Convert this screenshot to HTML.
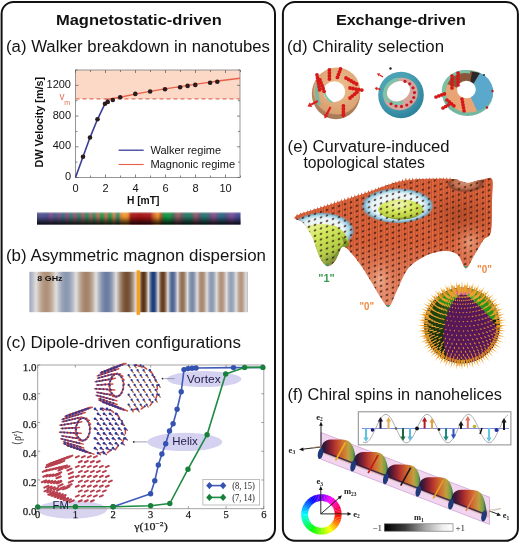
<!DOCTYPE html>
<html><head><meta charset="utf-8">
<style>
html,body{margin:0;padding:0;background:#fff;width:520px;height:543px;overflow:hidden}
svg{display:block}
.t{font-family:"Liberation Sans",Arial,sans-serif;fill:#141414}
.h{font-family:"Liberation Sans",Arial,sans-serif;font-weight:bold;fill:#111}
.s{font-family:"Liberation Serif","Times New Roman",serif;fill:#222}
</style></head>
<body>
<svg width="520" height="543" viewBox="0 0 520 543">
<defs>
<linearGradient id="ga" x1="37" x2="240.5" y1="0" y2="0" gradientUnits="userSpaceOnUse"><stop offset="0.0000" stop-color="#4a4a88"/><stop offset="0.0246" stop-color="#50508c"/><stop offset="0.0491" stop-color="#4a4a8a"/><stop offset="0.0688" stop-color="#7a4a8e"/><stop offset="0.0885" stop-color="#3d5a80"/><stop offset="0.1081" stop-color="#7a4a8a"/><stop offset="0.1278" stop-color="#2f6a7a"/><stop offset="0.1474" stop-color="#8a4a7a"/><stop offset="0.1671" stop-color="#2a7a6a"/><stop offset="0.1867" stop-color="#9a5070"/><stop offset="0.2064" stop-color="#2a7a60"/><stop offset="0.2260" stop-color="#a05a68"/><stop offset="0.2457" stop-color="#1f8a55"/><stop offset="0.2654" stop-color="#b06060"/><stop offset="0.2801" stop-color="#1f8a55"/><stop offset="0.2998" stop-color="#c06a58"/><stop offset="0.3194" stop-color="#129a48"/><stop offset="0.3391" stop-color="#c87050"/><stop offset="0.3587" stop-color="#10964a"/><stop offset="0.3784" stop-color="#d8804a"/><stop offset="0.3980" stop-color="#208a6a"/><stop offset="0.4128" stop-color="#e08838"/><stop offset="0.4324" stop-color="#f09a28"/><stop offset="0.4472" stop-color="#e88a28"/><stop offset="0.4619" stop-color="#a81818"/><stop offset="0.5061" stop-color="#a01010"/><stop offset="0.5553" stop-color="#a81818"/><stop offset="0.5749" stop-color="#d06a28"/><stop offset="0.5946" stop-color="#f09028"/><stop offset="0.6093" stop-color="#a05a28"/><stop offset="0.6241" stop-color="#158a45"/><stop offset="0.6486" stop-color="#0c9a40"/><stop offset="0.6683" stop-color="#3a6a50"/><stop offset="0.6929" stop-color="#9a5a60"/><stop offset="0.7125" stop-color="#5a5a60"/><stop offset="0.7371" stop-color="#1a7a60"/><stop offset="0.7568" stop-color="#2a7060"/><stop offset="0.7813" stop-color="#9a5068"/><stop offset="0.8010" stop-color="#4a5a70"/><stop offset="0.8256" stop-color="#1a7a6a"/><stop offset="0.8452" stop-color="#4a5a78"/><stop offset="0.8698" stop-color="#8a4a88"/><stop offset="0.8894" stop-color="#4a5a80"/><stop offset="0.9091" stop-color="#1f6a80"/><stop offset="0.9287" stop-color="#4a5080"/><stop offset="0.9582" stop-color="#7a4a98"/><stop offset="0.9779" stop-color="#4a4a90"/><stop offset="0.9975" stop-color="#40408a"/></linearGradient>
<linearGradient id="gav" x1="0" x2="0" y1="0" y2="1"><stop offset="0" stop-color="#fff" stop-opacity="0.3"/><stop offset="0.18" stop-color="#fff" stop-opacity="0.05"/><stop offset="0.45" stop-color="#000" stop-opacity="0.12"/><stop offset="0.72" stop-color="#000" stop-opacity="0.5"/><stop offset="1" stop-color="#000" stop-opacity="0.88"/></linearGradient>
<linearGradient id="gb" x1="29.4" x2="248" y1="0" y2="0" gradientUnits="userSpaceOnUse"><stop offset="0.0000" stop-color="#9ea8bb"/><stop offset="0.0046" stop-color="#a5aebf"/><stop offset="0.0091" stop-color="#aeb5c3"/><stop offset="0.0137" stop-color="#b8bdc8"/><stop offset="0.0183" stop-color="#c3c6ce"/><stop offset="0.0229" stop-color="#ced0d4"/><stop offset="0.0274" stop-color="#dbdada"/><stop offset="0.0320" stop-color="#dfdbd8"/><stop offset="0.0366" stop-color="#d7cfc8"/><stop offset="0.0412" stop-color="#d0c3b9"/><stop offset="0.0457" stop-color="#c9b8ab"/><stop offset="0.0503" stop-color="#c2ae9f"/><stop offset="0.0549" stop-color="#bda593"/><stop offset="0.0595" stop-color="#b89e8a"/><stop offset="0.0640" stop-color="#b49882"/><stop offset="0.0686" stop-color="#b1947d"/><stop offset="0.0732" stop-color="#b0927a"/><stop offset="0.0778" stop-color="#af917a"/><stop offset="0.0823" stop-color="#b0937c"/><stop offset="0.0869" stop-color="#b39680"/><stop offset="0.0915" stop-color="#b69c87"/><stop offset="0.0961" stop-color="#baa390"/><stop offset="0.1006" stop-color="#c0ab9b"/><stop offset="0.1052" stop-color="#c6b5a7"/><stop offset="0.1098" stop-color="#cdc0b5"/><stop offset="0.1144" stop-color="#d5ccc5"/><stop offset="0.1189" stop-color="#ddd8d4"/><stop offset="0.1235" stop-color="#dddcdb"/><stop offset="0.1281" stop-color="#d0d1d5"/><stop offset="0.1327" stop-color="#c3c6ce"/><stop offset="0.1372" stop-color="#b7bcc8"/><stop offset="0.1418" stop-color="#acb3c2"/><stop offset="0.1464" stop-color="#a2abbd"/><stop offset="0.1510" stop-color="#9aa4b9"/><stop offset="0.1555" stop-color="#939fb6"/><stop offset="0.1601" stop-color="#8f9bb3"/><stop offset="0.1647" stop-color="#8c99b2"/><stop offset="0.1693" stop-color="#8b98b2"/><stop offset="0.1738" stop-color="#8d99b3"/><stop offset="0.1784" stop-color="#909cb4"/><stop offset="0.1830" stop-color="#96a1b7"/><stop offset="0.1876" stop-color="#9ea7bb"/><stop offset="0.1921" stop-color="#a7afc0"/><stop offset="0.1967" stop-color="#b2b8c6"/><stop offset="0.2013" stop-color="#bec2cc"/><stop offset="0.2059" stop-color="#cbcdd3"/><stop offset="0.2104" stop-color="#d9d9da"/><stop offset="0.2150" stop-color="#dedbd7"/><stop offset="0.2196" stop-color="#d5cdc6"/><stop offset="0.2242" stop-color="#ccbfb5"/><stop offset="0.2287" stop-color="#c4b3a5"/><stop offset="0.2333" stop-color="#bca797"/><stop offset="0.2379" stop-color="#b59c8a"/><stop offset="0.2425" stop-color="#af947e"/><stop offset="0.2470" stop-color="#aa8c76"/><stop offset="0.2516" stop-color="#a6876f"/><stop offset="0.2562" stop-color="#a4846b"/><stop offset="0.2608" stop-color="#a3836a"/><stop offset="0.2653" stop-color="#a4856c"/><stop offset="0.2699" stop-color="#a68871"/><stop offset="0.2745" stop-color="#aa8e79"/><stop offset="0.2790" stop-color="#b09683"/><stop offset="0.2836" stop-color="#b6a08f"/><stop offset="0.2882" stop-color="#beac9e"/><stop offset="0.2928" stop-color="#c7b9ae"/><stop offset="0.2973" stop-color="#d1c7c0"/><stop offset="0.3019" stop-color="#dcd7d2"/><stop offset="0.3065" stop-color="#dbdadb"/><stop offset="0.3111" stop-color="#caccd2"/><stop offset="0.3156" stop-color="#babfca"/><stop offset="0.3202" stop-color="#aab1c1"/><stop offset="0.3248" stop-color="#9ba5ba"/><stop offset="0.3294" stop-color="#8d99b3"/><stop offset="0.3339" stop-color="#8190ad"/><stop offset="0.3385" stop-color="#7888a8"/><stop offset="0.3431" stop-color="#7082a5"/><stop offset="0.3477" stop-color="#6c7ea2"/><stop offset="0.3522" stop-color="#6a7ca1"/><stop offset="0.3568" stop-color="#6b7da2"/><stop offset="0.3614" stop-color="#6f81a4"/><stop offset="0.3660" stop-color="#7687a8"/><stop offset="0.3705" stop-color="#808fad"/><stop offset="0.3751" stop-color="#8d9ab3"/><stop offset="0.3797" stop-color="#9ca6bb"/><stop offset="0.3843" stop-color="#adb4c4"/><stop offset="0.3888" stop-color="#c1c4cd"/><stop offset="0.3934" stop-color="#d5d5d8"/><stop offset="0.3980" stop-color="#dcd8d5"/><stop offset="0.4026" stop-color="#cec4bd"/><stop offset="0.4071" stop-color="#bfb0a5"/><stop offset="0.4117" stop-color="#b19d8e"/><stop offset="0.4163" stop-color="#a38b79"/><stop offset="0.4209" stop-color="#977b65"/><stop offset="0.4254" stop-color="#8c6c54"/><stop offset="0.4300" stop-color="#836046"/><stop offset="0.4346" stop-color="#7c573b"/><stop offset="0.4392" stop-color="#775134"/><stop offset="0.4437" stop-color="#754e31"/><stop offset="0.4483" stop-color="#754f32"/><stop offset="0.4529" stop-color="#785438"/><stop offset="0.4575" stop-color="#7e5c42"/><stop offset="0.4620" stop-color="#876851"/><stop offset="0.4666" stop-color="#947965"/><stop offset="0.4712" stop-color="#a38d7c"/><stop offset="0.4758" stop-color="#b3a295"/><stop offset="0.4803" stop-color="#c5b9b0"/><stop offset="0.4849" stop-color="#d7d1cd"/><stop offset="0.4895" stop-color="#d7d7d9"/><stop offset="0.4941" stop-color="#bcc0cb"/><stop offset="0.4986" stop-color="#d4d4d7"/><stop offset="0.5032" stop-color="#c0b5ab"/><stop offset="0.5078" stop-color="#98816f"/><stop offset="0.5124" stop-color="#78573d"/><stop offset="0.5169" stop-color="#623b1d"/><stop offset="0.5215" stop-color="#5a3010"/><stop offset="0.5261" stop-color="#603719"/><stop offset="0.5306" stop-color="#735035"/><stop offset="0.5352" stop-color="#917764"/><stop offset="0.5398" stop-color="#b8aa9e"/><stop offset="0.5444" stop-color="#e0dfdd"/><stop offset="0.5489" stop-color="#a1aabe"/><stop offset="0.5535" stop-color="#697ba1"/><stop offset="0.5581" stop-color="#3c578b"/><stop offset="0.5627" stop-color="#21407e"/><stop offset="0.5672" stop-color="#1a3a7a"/><stop offset="0.5718" stop-color="#284581"/><stop offset="0.5764" stop-color="#486091"/><stop offset="0.5810" stop-color="#7888a9"/><stop offset="0.5855" stop-color="#b4bac7"/><stop offset="0.5901" stop-color="#d6d0cc"/><stop offset="0.5947" stop-color="#ac9a8c"/><stop offset="0.5993" stop-color="#886b55"/><stop offset="0.6038" stop-color="#704c30"/><stop offset="0.6084" stop-color="#653d1e"/><stop offset="0.6130" stop-color="#673f20"/><stop offset="0.6176" stop-color="#755135"/><stop offset="0.6221" stop-color="#8e715b"/><stop offset="0.6267" stop-color="#ad9a8c"/><stop offset="0.6313" stop-color="#d1c9c3"/><stop offset="0.6359" stop-color="#c7c9d0"/><stop offset="0.6404" stop-color="#97a2b8"/><stop offset="0.6450" stop-color="#7182a5"/><stop offset="0.6496" stop-color="#586e99"/><stop offset="0.6542" stop-color="#4e6594"/><stop offset="0.6587" stop-color="#536a96"/><stop offset="0.6633" stop-color="#677aa0"/><stop offset="0.6679" stop-color="#8694b0"/><stop offset="0.6725" stop-color="#adb4c3"/><stop offset="0.6770" stop-color="#d8d8d9"/><stop offset="0.6816" stop-color="#ccc2ba"/><stop offset="0.6862" stop-color="#b4a090"/><stop offset="0.6908" stop-color="#a18570"/><stop offset="0.6953" stop-color="#95755b"/><stop offset="0.6999" stop-color="#926f55"/><stop offset="0.7045" stop-color="#96765c"/><stop offset="0.7091" stop-color="#a38671"/><stop offset="0.7136" stop-color="#b5a090"/><stop offset="0.7182" stop-color="#cbbfb6"/><stop offset="0.7228" stop-color="#e1dfde"/><stop offset="0.7274" stop-color="#bec2cc"/><stop offset="0.7319" stop-color="#9fa9bc"/><stop offset="0.7365" stop-color="#8996b1"/><stop offset="0.7411" stop-color="#7b8baa"/><stop offset="0.7457" stop-color="#7989a9"/><stop offset="0.7502" stop-color="#8190ad"/><stop offset="0.7548" stop-color="#939fb6"/><stop offset="0.7594" stop-color="#adb4c3"/><stop offset="0.7640" stop-color="#cbcdd2"/><stop offset="0.7685" stop-color="#dcd8d4"/><stop offset="0.7731" stop-color="#c9bbb0"/><stop offset="0.7777" stop-color="#b9a392"/><stop offset="0.7823" stop-color="#ad917c"/><stop offset="0.7868" stop-color="#a78870"/><stop offset="0.7914" stop-color="#a78870"/><stop offset="0.7960" stop-color="#ad917b"/><stop offset="0.8005" stop-color="#b8a18f"/><stop offset="0.8051" stop-color="#c8b8ac"/><stop offset="0.8097" stop-color="#d9d3ce"/><stop offset="0.8143" stop-color="#d3d4d6"/><stop offset="0.8188" stop-color="#b8bec9"/><stop offset="0.8234" stop-color="#a2abbe"/><stop offset="0.8280" stop-color="#939fb6"/><stop offset="0.8326" stop-color="#8c99b2"/><stop offset="0.8371" stop-color="#8e9bb3"/><stop offset="0.8417" stop-color="#99a3b9"/><stop offset="0.8463" stop-color="#abb2c2"/><stop offset="0.8509" stop-color="#c2c5ce"/><stop offset="0.8554" stop-color="#dcdbdb"/><stop offset="0.8600" stop-color="#d5ccc5"/><stop offset="0.8646" stop-color="#c6b5a7"/><stop offset="0.8692" stop-color="#baa28f"/><stop offset="0.8737" stop-color="#b39680"/><stop offset="0.8783" stop-color="#b0927a"/><stop offset="0.8829" stop-color="#b2957f"/><stop offset="0.8875" stop-color="#b9a08d"/><stop offset="0.8920" stop-color="#c5b2a3"/><stop offset="0.8966" stop-color="#d3c8c0"/><stop offset="0.9012" stop-color="#e1dfde"/><stop offset="0.9058" stop-color="#c9cbd1"/><stop offset="0.9103" stop-color="#b3b9c6"/><stop offset="0.9149" stop-color="#a2abbd"/><stop offset="0.9195" stop-color="#98a2b8"/><stop offset="0.9241" stop-color="#95a0b7"/><stop offset="0.9286" stop-color="#9ba5b9"/><stop offset="0.9332" stop-color="#a7afc0"/><stop offset="0.9378" stop-color="#babfc9"/><stop offset="0.9424" stop-color="#d0d1d5"/><stop offset="0.9469" stop-color="#ded9d6"/><stop offset="0.9515" stop-color="#cfc2b8"/><stop offset="0.9561" stop-color="#c3af9e"/><stop offset="0.9607" stop-color="#baa08b"/><stop offset="0.9652" stop-color="#b59881"/><stop offset="0.9698" stop-color="#b59780"/><stop offset="0.9744" stop-color="#b99e89"/><stop offset="0.9790" stop-color="#c1ac9b"/><stop offset="0.9835" stop-color="#cdbfb3"/><stop offset="0.9881" stop-color="#dbd5d0"/><stop offset="0.9927" stop-color="#d6d6d8"/><stop offset="0.9973" stop-color="#bfc3cc"/></linearGradient>
<radialGradient id="r1top" cx="0.55" cy="0.4" r="0.7"><stop offset="0" stop-color="#f0c090"/><stop offset="1" stop-color="#d49a6a"/></radialGradient>
<linearGradient id="r1side" x1="0" x2="0" y1="0" y2="1"><stop offset="0" stop-color="#c89068"/><stop offset="1" stop-color="#a87a58"/></linearGradient>
<radialGradient id="r2o" cx="0.4" cy="0.35" r="0.7"><stop offset="0.5" stop-color="#4aa2b4"/><stop offset="1" stop-color="#2a7e98"/></radialGradient>
<clipPath id="sclip"><path d="M295.1 216.4 L300.79 213.85 L309.84 210.91 L320.26 207.81 L330 204.8 L338.63 201.97 L347.18 199.19 L355.9 196.36 L365 193.4 L374.51 189.99 L384.31 186.28 L394.46 182.87 L405 180.4 L416.95 179.15 L429.94 178.76 L441.96 178.84 L451 179 L455.88 179.26 L457.88 179.79 L458.69 180.42 L460 181 L462.07 181.59 L464.06 182.25 L466.02 182.78 L468 183 L470.02 182.77 L472.06 182.22 L474.07 181.56 L476 181 L477.77 180.56 L479.42 180.14 L481.11 179.78 L483 179.5 L485.39 178.85 L488.11 177.96 L490.6 177.76 L492.3 179.2 L492.92 182.65 L492.79 187.58 L492.35 193.52 L492 200 L491.95 207.78 L491.94 216.81 L491.72 225.44 L491 232 L489.66 235.45 L487.85 236.89 L485.77 237.83 L483.6 239.8 L481.28 243.35 L478.74 247.61 L476.18 252.01 L473.8 256 L471.67 259.99 L469.68 264.11 L467.74 267.29 L465.8 268.5 L463.92 266.73 L462.12 262.78 L460.21 258.32 L458 255 L455.43 253.19 L452.61 252.03 L449.6 251.36 L446.5 251 L443.17 251.03 L439.62 251.5 L436.14 252.22 L433 253 L430.48 253.68 L428.38 254.41 L426.2 255.43 L423.5 257 L419.95 259.08 L415.88 261.56 L411.73 264.64 L408 268.5 L404.75 273.62 L401.76 279.76 L399.01 286.02 L396.5 291.5 L394.31 296.43 L392.42 301.14 L390.64 304.85 L388.8 306.8 L386.89 306.44 L384.98 304.29 L383.04 301.2 L381 298 L378.86 294.71 L376.64 290.95 L374.35 286.97 L372 283 L369.57 279 L367.06 274.88 L364.52 270.81 L362 267 L359.48 263.41 L356.94 259.98 L354.43 256.81 L352 254 L349.59 251.32 L347.19 248.79 L344.95 246.95 L343 246.3 L341.43 247.37 L340.14 249.76 L339.04 252.59 L338 255 L337.15 256.84 L336.49 258.56 L335.77 260.14 L334.7 261.6 L333.16 263.19 L331.31 264.83 L329.33 266 L327.4 266.2 L325.56 265.31 L323.71 263.61 L321.85 261.12 L320 257.9 L318.19 253.54 L316.41 248.15 L314.58 242.56 L312.6 237.6 L310.41 233.34 L308.06 229.39 L305.68 225.87 L303.4 222.9 L300.25 220.82 L296.49 219.46 L294.12 218.19Z"/></clipPath>
<pattern id="sstripe" width="2.7" height="6" patternUnits="userSpaceOnUse"><rect width="2.7" height="6" fill="#e2693e"/><rect x="1.6" width="1.1" height="6" fill="#c05030"/></pattern>
<pattern id="sdots" width="6" height="5.5" patternUnits="userSpaceOnUse" patternTransform="skewY(-18)"><circle cx="3" cy="2.75" r="1.05" fill="#3a1810"/></pattern>
<radialGradient id="halo1" cx="0.5" cy="0.5" r="0.5"><stop offset="0" stop-color="#f4f8f0"/><stop offset="0.68" stop-color="#eaf6fa"/><stop offset="0.84" stop-color="#a4d4e6"/><stop offset="0.93" stop-color="#6aaccc" stop-opacity="0.8"/><stop offset="1" stop-color="#e2693e" stop-opacity="0"/></radialGradient>
<radialGradient id="yg1" cx="0.45" cy="0.25" r="0.75"><stop offset="0" stop-color="#f0f6c0"/><stop offset="0.45" stop-color="#d6ea60"/><stop offset="0.85" stop-color="#b8d040"/><stop offset="1" stop-color="#6a8420"/></radialGradient>
<radialGradient id="dipR" cx="0.5" cy="0.5" r="0.5"><stop offset="0" stop-color="#f0b898"/><stop offset="1" stop-color="#e2693e" stop-opacity="0"/></radialGradient>
<radialGradient id="crat" cx="0.45" cy="0.45" r="0.55"><stop offset="0" stop-color="#d89474"/><stop offset="0.55" stop-color="#c07050"/><stop offset="0.8" stop-color="#8a4630"/><stop offset="1" stop-color="#c05a38" stop-opacity="0"/></radialGradient>
<radialGradient id="shadeR" cx="0.5" cy="0.5" r="0.5"><stop offset="0" stop-color="#7a2a10" stop-opacity="0.35"/><stop offset="1" stop-color="#7a2a10" stop-opacity="0"/></radialGradient>
<linearGradient id="yg2" x1="0" y1="0" x2="0.6" y2="1"><stop offset="0" stop-color="#eef6b0"/><stop offset="0.35" stop-color="#d4ea60"/><stop offset="0.75" stop-color="#b0cc40"/><stop offset="1" stop-color="#6a8420"/></linearGradient>
<linearGradient id="sbot" x1="0" y1="0" x2="0" y2="1"><stop offset="0" stop-color="#fff" stop-opacity="0"/><stop offset="0.5" stop-color="#fff" stop-opacity="0"/><stop offset="0.8" stop-color="#ffe0d0" stop-opacity="0.22"/><stop offset="1" stop-color="#ffe0d0" stop-opacity="0.35"/></linearGradient>
<clipPath id="ballclip"><circle cx="462" cy="325.5" r="37.5"/></clipPath>
<radialGradient id="ballg" cx="0.35" cy="0.3" r="0.75"><stop offset="0" stop-color="#2a5a14"/><stop offset="0.5" stop-color="#16300c"/><stop offset="1" stop-color="#0c1406"/></radialGradient>
<radialGradient id="fring" cx="462" cy="325.5" r="45" gradientUnits="userSpaceOnUse"><stop offset="0.75" stop-color="#c87818"/><stop offset="0.88" stop-color="#eca030"/><stop offset="1" stop-color="#f6c060"/></radialGradient>
<linearGradient id="ha0" x1="320.5" y1="0" x2="356.5" y2="0" gradientUnits="userSpaceOnUse"><stop offset="0" stop-color="#1c1c48"/><stop offset="0.12" stop-color="#3a1838"/><stop offset="0.28" stop-color="#8a2030"/><stop offset="0.45" stop-color="#c0402c"/><stop offset="0.62" stop-color="#d07030"/><stop offset="0.78" stop-color="#c0a040"/><stop offset="0.9" stop-color="#70a048"/><stop offset="1" stop-color="#1a3a50"/></linearGradient>
<linearGradient id="ha1" x1="353.1" y1="0" x2="389.1" y2="0" gradientUnits="userSpaceOnUse"><stop offset="0" stop-color="#1c1c48"/><stop offset="0.12" stop-color="#3a1838"/><stop offset="0.28" stop-color="#8a2030"/><stop offset="0.45" stop-color="#c0402c"/><stop offset="0.62" stop-color="#d07030"/><stop offset="0.78" stop-color="#c0a040"/><stop offset="0.9" stop-color="#70a048"/><stop offset="1" stop-color="#1a3a50"/></linearGradient>
<linearGradient id="ha2" x1="385.7" y1="0" x2="421.7" y2="0" gradientUnits="userSpaceOnUse"><stop offset="0" stop-color="#1c1c48"/><stop offset="0.12" stop-color="#3a1838"/><stop offset="0.28" stop-color="#8a2030"/><stop offset="0.45" stop-color="#c0402c"/><stop offset="0.62" stop-color="#d07030"/><stop offset="0.78" stop-color="#c0a040"/><stop offset="0.9" stop-color="#70a048"/><stop offset="1" stop-color="#1a3a50"/></linearGradient>
<linearGradient id="ha3" x1="418.3" y1="0" x2="454.3" y2="0" gradientUnits="userSpaceOnUse"><stop offset="0" stop-color="#1c1c48"/><stop offset="0.12" stop-color="#3a1838"/><stop offset="0.28" stop-color="#8a2030"/><stop offset="0.45" stop-color="#c0402c"/><stop offset="0.62" stop-color="#d07030"/><stop offset="0.78" stop-color="#c0a040"/><stop offset="0.9" stop-color="#70a048"/><stop offset="1" stop-color="#1a3a50"/></linearGradient>
<linearGradient id="ha4" x1="450.9" y1="0" x2="486.9" y2="0" gradientUnits="userSpaceOnUse"><stop offset="0" stop-color="#1c1c48"/><stop offset="0.12" stop-color="#3a1838"/><stop offset="0.28" stop-color="#8a2030"/><stop offset="0.45" stop-color="#c0402c"/><stop offset="0.62" stop-color="#d07030"/><stop offset="0.78" stop-color="#c0a040"/><stop offset="0.9" stop-color="#70a048"/><stop offset="1" stop-color="#1a3a50"/></linearGradient>
<linearGradient id="m1g" x1="0" x2="1" y1="0" y2="0"><stop offset="0" stop-color="#000"/><stop offset="0.3" stop-color="#3a3a3a"/><stop offset="0.6" stop-color="#a8a8a8"/><stop offset="0.85" stop-color="#eeeeee"/><stop offset="1" stop-color="#fff"/></linearGradient>
</defs>
<rect x="0" y="0" width="520" height="543" fill="#fff"/>
<rect x="75.5" y="70" width="164.5" height="28.95" fill="#fcd8c6"/>
<rect x="75.5" y="70" width="164.5" height="107.5" fill="none" stroke="#8a8a8a" stroke-width="0.9"/>
<path d="M75.5 177.5v-3 M75.5 70v3 M90.5 177.5v-2 M90.5 70v2 M105.5 177.5v-3 M105.5 70v3 M120.5 177.5v-2 M120.5 70v2 M135.5 177.5v-3 M135.5 70v3 M150.5 177.5v-2 M150.5 70v2 M165.5 177.5v-3 M165.5 70v3 M180.5 177.5v-2 M180.5 70v2 M195.5 177.5v-3 M195.5 70v3 M210.5 177.5v-2 M210.5 70v2 M225.5 177.5v-3 M225.5 70v3 M240.5 177.5v-2 M240.5 70v2 M75.5 177.5h3 M240 177.5h-3 M75.5 162.14h2 M240 162.14h-2 M75.5 146.79h3 M240 146.79h-3 M75.5 131.43h2 M240 131.43h-2 M75.5 116.07h3 M240 116.07h-3 M75.5 100.71h2 M240 100.71h-2 M75.5 85.36h3 M240 85.36h-3 M75.5 70h2 M240 70h-2" stroke="#666" stroke-width="0.8" fill="none"/>
<line x1="75.5" y1="98.95" x2="240" y2="98.95" stroke="#e4715a" stroke-width="1.2" stroke-dasharray="4,3"/>
<polyline points="105.4,99.8 120.2,97.2 135,94.1 150,91.4 165,88.9 180,86.6 200,83.6 220,80.8 240,78.2" fill="none" stroke="#e8604a" stroke-width="1.4"/>
<polyline points="75.5,177.5 83,156.8 90,137.6 97.5,119.3 105,103.6 108.2,99.6" fill="none" stroke="#3a3f96" stroke-width="1.6" stroke-linejoin="round"/>
<circle cx="83" cy="156.75" r="2.3" fill="#2a1c1c"/>
<circle cx="90" cy="137.5" r="2.3" fill="#2a1c1c"/>
<circle cx="97.5" cy="119.25" r="2.3" fill="#2a1c1c"/>
<circle cx="105" cy="103.75" r="2.3" fill="#2a1c1c"/>
<circle cx="107.8" cy="102" r="2.3" fill="#2a1c1c"/>
<circle cx="112.8" cy="100" r="2.3" fill="#2a1c1c"/>
<circle cx="120.2" cy="97.3" r="2.3" fill="#2a1c1c"/>
<circle cx="135.3" cy="93.9" r="2.3" fill="#2a1c1c"/>
<circle cx="150.1" cy="91.5" r="2.3" fill="#2a1c1c"/>
<circle cx="165" cy="89.2" r="2.3" fill="#2a1c1c"/>
<circle cx="180.1" cy="87.3" r="2.3" fill="#2a1c1c"/>
<circle cx="187.6" cy="85.9" r="2.3" fill="#2a1c1c"/>
<circle cx="195.3" cy="84.9" r="2.3" fill="#2a1c1c"/>
<circle cx="210.1" cy="82.7" r="2.3" fill="#2a1c1c"/>
<circle cx="217.3" cy="81.8" r="2.3" fill="#2a1c1c"/>
<line x1="118.6" y1="150.2" x2="143.7" y2="150.2" stroke="#3a3f96" stroke-width="1.3"/>
<line x1="118.6" y1="164.5" x2="143.7" y2="164.5" stroke="#e8604a" stroke-width="1.1"/>
<text class="t" x="150.4" y="153.8" font-size="10" textLength="70.8" lengthAdjust="spacingAndGlyphs">Walker regime</text>
<text class="t" x="150.4" y="167.8" font-size="10" textLength="84.8" lengthAdjust="spacingAndGlyphs">Magnonic regime</text>
<text class="t" x="71" y="180.1" font-size="11" text-anchor="end">0</text>
<text class="t" x="71" y="149.39" font-size="11" text-anchor="end">400</text>
<text class="t" x="71" y="118.67" font-size="11" text-anchor="end">800</text>
<text class="t" x="71" y="87.96" font-size="11" text-anchor="end">1200</text>
<text class="t" x="75.5" y="191.6" font-size="11" text-anchor="middle">0</text>
<text class="t" x="105.5" y="191.6" font-size="11" text-anchor="middle">2</text>
<text class="t" x="135.5" y="191.6" font-size="11" text-anchor="middle">4</text>
<text class="t" x="165.5" y="191.6" font-size="11" text-anchor="middle">6</text>
<text class="t" x="195.5" y="191.6" font-size="11" text-anchor="middle">8</text>
<text class="t" x="225.5" y="191.6" font-size="11" text-anchor="middle">10</text>
<text class="h" x="126.9" y="203.8" font-size="10" textLength="32.5" lengthAdjust="spacingAndGlyphs">H [mT]</text>
<text class="h" transform="translate(42.6 167.4) rotate(-90)" x="0" y="0" font-size="11.6" textLength="90.5" lengthAdjust="spacingAndGlyphs">DW Velocity [m/s]</text>
<text x="59.6" y="100.3" font-size="10" font-family="Liberation Sans,Arial,sans-serif" fill="#e4715a">v</text>
<text x="64.2" y="105.4" font-size="7" font-family="Liberation Sans,Arial,sans-serif" fill="#e4715a">m</text>
<rect x="37" y="212.5" width="203.5" height="12" fill="url(#ga)"/>
<rect x="37" y="212.5" width="203.5" height="12" fill="url(#gav)"/>
<rect x="29.4" y="271.8" width="218.6" height="40.4" fill="url(#gb)"/>
<rect x="136.6" y="270.3" width="3.5" height="44.6" fill="#f5a020"/>
<text class="h" x="37.2" y="281" font-size="8" textLength="25.4" lengthAdjust="spacingAndGlyphs">8 GHz</text>
<ellipse cx="204.2" cy="379.1" rx="37.2" ry="8" fill="#d4d2f0"/>
<ellipse cx="184.8" cy="441.9" rx="37.5" ry="9.2" fill="#d4d2f0"/>
<ellipse cx="72" cy="509.6" rx="35" ry="9" fill="#d8d4f0"/>
<rect x="37.7" y="365" width="226.1" height="143.7" fill="none" stroke="#9a9a9a" stroke-width="0.9"/>
<path d="M37.7 508.7v-2.5 M37.7 365v2.5 M75.38 508.7v-2.5 M75.38 365v2.5 M113.06 508.7v-2.5 M113.06 365v2.5 M150.74 508.7v-2.5 M150.74 365v2.5 M188.42 508.7v-2.5 M188.42 365v2.5 M226.1 508.7v-2.5 M226.1 365v2.5 M263.78 508.7v-2.5 M263.78 365v2.5 M37.7 508.7h2.5 M263.8 508.7h-2.5 M37.7 479.96h2.5 M263.8 479.96h-2.5 M37.7 451.22h2.5 M263.8 451.22h-2.5 M37.7 422.48h2.5 M263.8 422.48h-2.5 M37.7 393.74h2.5 M263.8 393.74h-2.5 M37.7 365h2.5 M263.8 365h-2.5" stroke="#777" stroke-width="0.7" fill="none"/>
<text class="s" x="36.6" y="514.7" font-size="11" text-anchor="end" fill="#1a1a1a" stroke="#1a1a1a" stroke-width="0.25">0.0</text>
<text class="s" x="36.6" y="485.96" font-size="11" text-anchor="end" fill="#1a1a1a" stroke="#1a1a1a" stroke-width="0.25">0.2</text>
<text class="s" x="36.6" y="457.22" font-size="11" text-anchor="end" fill="#1a1a1a" stroke="#1a1a1a" stroke-width="0.25">0.4</text>
<text class="s" x="36.6" y="428.48" font-size="11" text-anchor="end" fill="#1a1a1a" stroke="#1a1a1a" stroke-width="0.25">0.6</text>
<text class="s" x="36.6" y="399.74" font-size="11" text-anchor="end" fill="#1a1a1a" stroke="#1a1a1a" stroke-width="0.25">0.8</text>
<text class="s" x="36.6" y="371" font-size="11" text-anchor="end" fill="#1a1a1a" stroke="#1a1a1a" stroke-width="0.25">1.0</text>
<text class="s" x="37.7" y="517.6" font-size="10.5" text-anchor="middle" fill="#1a1a1a" stroke="#1a1a1a" stroke-width="0.25">0</text>
<text class="s" x="75.38" y="517.6" font-size="10.5" text-anchor="middle" fill="#1a1a1a" stroke="#1a1a1a" stroke-width="0.25">1</text>
<text class="s" x="113.06" y="517.6" font-size="10.5" text-anchor="middle" fill="#1a1a1a" stroke="#1a1a1a" stroke-width="0.25">2</text>
<text class="s" x="150.74" y="517.6" font-size="10.5" text-anchor="middle" fill="#1a1a1a" stroke="#1a1a1a" stroke-width="0.25">3</text>
<text class="s" x="188.42" y="517.6" font-size="10.5" text-anchor="middle" fill="#1a1a1a" stroke="#1a1a1a" stroke-width="0.25">4</text>
<text class="s" x="226.1" y="517.6" font-size="10.5" text-anchor="middle" fill="#1a1a1a" stroke="#1a1a1a" stroke-width="0.25">5</text>
<text class="s" x="263.78" y="517.6" font-size="10.5" text-anchor="middle" fill="#1a1a1a" stroke="#1a1a1a" stroke-width="0.25">6</text>
<text class="s" x="134.2" y="529.6" font-size="11" stroke="#222" stroke-width="0.25" textLength="33.5" lengthAdjust="spacingAndGlyphs">γ(10<tspan font-size="7" dy="-4">−2</tspan><tspan dy="4">)</tspan></text>
<text class="s" transform="translate(20.6 444.6) rotate(-90)" font-size="12" textLength="14.2" lengthAdjust="spacingAndGlyphs">⟨ρ<tspan font-size="6.5" dy="-3.5">z</tspan><tspan dy="3.5">⟩</tspan></text>
<line x1="164.3" y1="378.6" x2="174.7" y2="378.6" stroke="#8a88a8" stroke-width="0.8"/><circle cx="162.6" cy="378.6" r="0.9" fill="#222"/>
<line x1="134.8" y1="441.9" x2="147.3" y2="441.9" stroke="#8a88a8" stroke-width="0.8"/><circle cx="133.8" cy="441.9" r="0.9" fill="#222"/>
<polyline points="113.1,506.7 150.6,493.8 154.8,480.8 158.3,465 161.9,454 165.7,443.7 169.5,431 173.1,423.8 177.1,409.3 181.2,391.8 184,369.6 188,368.6 192,368.2 196,368 233.5,367.6 262.9,367.4" fill="none" stroke="#3f5bb8" stroke-width="1.6" stroke-linejoin="round"/>
<circle cx="113.1" cy="506.7" r="2.7" fill="#3552b0"/>
<circle cx="150.6" cy="493.8" r="2.7" fill="#3552b0"/>
<circle cx="154.8" cy="480.8" r="2.7" fill="#3552b0"/>
<circle cx="158.3" cy="465" r="2.7" fill="#3552b0"/>
<circle cx="161.9" cy="454" r="2.7" fill="#3552b0"/>
<circle cx="165.7" cy="443.7" r="2.7" fill="#3552b0"/>
<circle cx="169.5" cy="431" r="2.7" fill="#3552b0"/>
<circle cx="173.1" cy="423.8" r="2.7" fill="#3552b0"/>
<circle cx="177.1" cy="409.3" r="2.7" fill="#3552b0"/>
<circle cx="181.2" cy="391.8" r="2.7" fill="#3552b0"/>
<circle cx="184" cy="369.6" r="2.7" fill="#3552b0"/>
<circle cx="188" cy="368.6" r="2.7" fill="#3552b0"/>
<circle cx="192" cy="368.2" r="2.7" fill="#3552b0"/>
<circle cx="196" cy="368" r="2.7" fill="#3552b0"/>
<circle cx="233.5" cy="367.6" r="2.7" fill="#3552b0"/>
<polyline points="37.7,507 75.4,506.7 113.1,506.7 150.6,505.8 169.8,503.5 188,469.2 207.1,434.7 225.7,374 244.6,367.4 262.9,367.4" fill="none" stroke="#1e8a42" stroke-width="1.6" stroke-linejoin="round"/>
<circle cx="37.7" cy="507" r="2.7" fill="#17803a"/>
<circle cx="75.4" cy="506.7" r="2.7" fill="#17803a"/>
<circle cx="113.1" cy="506.7" r="2.7" fill="#17803a"/>
<circle cx="150.6" cy="505.8" r="2.7" fill="#17803a"/>
<circle cx="169.8" cy="503.5" r="2.7" fill="#17803a"/>
<circle cx="188" cy="469.2" r="2.7" fill="#17803a"/>
<circle cx="207.1" cy="434.7" r="2.7" fill="#17803a"/>
<circle cx="225.7" cy="374" r="2.7" fill="#17803a"/>
<circle cx="244.6" cy="367.4" r="2.7" fill="#17803a"/>
<circle cx="262.9" cy="367.4" r="2.7" fill="#17803a"/>
<rect x="202.9" y="479.4" width="56.7" height="25.6" fill="#fff" stroke="#b0b0b0" stroke-width="0.8"/>
<line x1="209.4" y1="485.6" x2="223.1" y2="485.6" stroke="#3f5bb8" stroke-width="1.6"/><path d="M209.4 482l3.2 3.6l-3.2 3.6l-3.2 -3.6z" fill="#3552b0"/><path d="M223.1 482l3.2 3.6l-3.2 3.6l-3.2 -3.6z" fill="#3552b0"/>
<line x1="209.4" y1="497.4" x2="223.1" y2="497.4" stroke="#1e8a42" stroke-width="1.6"/><path d="M209.4 493.8l3.2 3.6l-3.2 3.6l-3.2 -3.6z" fill="#17803a"/><path d="M223.1 493.8l3.2 3.6l-3.2 3.6l-3.2 -3.6z" fill="#17803a"/>
<text class="s" x="232.2" y="489.3" font-size="9.5" textLength="22.7" lengthAdjust="spacingAndGlyphs">(8, 15)</text>
<text class="s" x="232.2" y="501.1" font-size="9.5" textLength="22.7" lengthAdjust="spacingAndGlyphs">(7, 14)</text>
<text x="186.8" y="382.8" font-size="11.6" font-family="Liberation Sans,Arial,sans-serif" fill="#1d1b48" textLength="33.8" lengthAdjust="spacingAndGlyphs">Vortex</text>
<text x="172.3" y="445.2" font-size="11.6" font-family="Liberation Sans,Arial,sans-serif" fill="#1d1b48" textLength="25.4" lengthAdjust="spacingAndGlyphs">Helix</text>
<g stroke="#a8603a" stroke-width="1.25" stroke-linecap="round"><line x1="128.6" y1="365.33" x2="130.23" y2="367.85"/><line x1="134.6" y1="365.33" x2="136.23" y2="367.85"/><line x1="140.6" y1="365.33" x2="142.23" y2="367.85"/><line x1="131.6" y1="370.23" x2="133.23" y2="372.75"/><line x1="137.6" y1="370.23" x2="139.23" y2="372.75"/><line x1="143.6" y1="370.23" x2="145.23" y2="372.75"/><line x1="149.6" y1="370.23" x2="151.23" y2="372.75"/><line x1="128.6" y1="375.13" x2="130.23" y2="377.65"/><line x1="134.6" y1="375.13" x2="136.23" y2="377.65"/><line x1="140.6" y1="375.13" x2="142.23" y2="377.65"/><line x1="146.6" y1="375.13" x2="148.23" y2="377.65"/><line x1="152.6" y1="375.13" x2="154.23" y2="377.65"/><line x1="131.6" y1="380.03" x2="133.23" y2="382.55"/><line x1="137.6" y1="380.03" x2="139.23" y2="382.55"/><line x1="143.6" y1="380.03" x2="145.23" y2="382.55"/><line x1="149.6" y1="380.03" x2="151.23" y2="382.55"/><line x1="155.6" y1="380.03" x2="157.23" y2="382.55"/><line x1="128.6" y1="384.93" x2="130.23" y2="387.45"/><line x1="134.6" y1="384.93" x2="136.23" y2="387.45"/><line x1="140.6" y1="384.93" x2="142.23" y2="387.45"/><line x1="146.6" y1="384.93" x2="148.23" y2="387.45"/><line x1="152.6" y1="384.93" x2="154.23" y2="387.45"/><line x1="158.6" y1="384.93" x2="160.23" y2="387.45"/><line x1="131.6" y1="389.83" x2="133.23" y2="392.35"/><line x1="137.6" y1="389.83" x2="139.23" y2="392.35"/><line x1="143.6" y1="389.83" x2="145.23" y2="392.35"/><line x1="149.6" y1="389.83" x2="151.23" y2="392.35"/><line x1="155.6" y1="389.83" x2="157.23" y2="392.35"/><line x1="128.6" y1="394.73" x2="130.23" y2="397.25"/><line x1="134.6" y1="394.73" x2="136.23" y2="397.25"/><line x1="140.6" y1="394.73" x2="142.23" y2="397.25"/><line x1="146.6" y1="394.73" x2="148.23" y2="397.25"/><line x1="152.6" y1="394.73" x2="154.23" y2="397.25"/><line x1="158.6" y1="394.73" x2="160.23" y2="397.25"/><line x1="131.6" y1="399.63" x2="133.23" y2="402.15"/><line x1="137.6" y1="399.63" x2="139.23" y2="402.15"/><line x1="143.6" y1="399.63" x2="145.23" y2="402.15"/><line x1="149.6" y1="399.63" x2="151.23" y2="402.15"/><line x1="155.6" y1="399.63" x2="157.23" y2="402.15"/><line x1="128.6" y1="404.53" x2="130.23" y2="407.05"/><line x1="134.6" y1="404.53" x2="136.23" y2="407.05"/><line x1="140.6" y1="404.53" x2="142.23" y2="407.05"/><line x1="146.6" y1="404.53" x2="148.23" y2="407.05"/><line x1="131.6" y1="409.43" x2="133.23" y2="411.95"/><line x1="137.6" y1="409.43" x2="139.23" y2="411.95"/></g><g stroke="#c84a48" stroke-width="1.5" stroke-linecap="round"><line x1="102.47" y1="401.76" x2="107.63" y2="403.65"/><line x1="105.28" y1="402.79" x2="110.45" y2="404.68"/><line x1="108.1" y1="403.82" x2="113.27" y2="405.71"/><line x1="110.92" y1="404.85" x2="116.08" y2="406.75"/><line x1="113.74" y1="405.89" x2="118.9" y2="407.78"/><line x1="116.56" y1="406.92" x2="121.72" y2="408.81"/><line x1="119.37" y1="407.95" x2="124.54" y2="409.84"/><line x1="122.19" y1="408.98" x2="127.36" y2="410.88"/><line x1="102.17" y1="401.88" x2="107.31" y2="403.83"/><line x1="105.25" y1="403.05" x2="110.39" y2="405"/><line x1="108.32" y1="404.22" x2="113.46" y2="406.17"/><line x1="111.4" y1="405.39" x2="116.54" y2="407.34"/><line x1="114.47" y1="406.56" x2="119.61" y2="408.51"/><line x1="117.55" y1="407.73" x2="122.69" y2="409.68"/><line x1="98.9" y1="399.99" x2="104.06" y2="401.9"/><line x1="101.77" y1="401.06" x2="106.93" y2="402.97"/><line x1="104.65" y1="402.12" x2="109.81" y2="404.04"/><line x1="107.53" y1="403.19" x2="112.68" y2="405.1"/><line x1="110.4" y1="404.26" x2="115.56" y2="406.17"/><line x1="113.28" y1="405.32" x2="118.43" y2="407.24"/><line x1="116.15" y1="406.39" x2="121.31" y2="408.3"/><line x1="98.98" y1="398.48" x2="104.2" y2="400.22"/><line x1="102.22" y1="399.56" x2="107.44" y2="401.3"/><line x1="105.46" y1="400.64" x2="110.67" y2="402.38"/><line x1="108.7" y1="401.72" x2="113.91" y2="403.46"/><line x1="111.94" y1="402.8" x2="117.15" y2="404.55"/><line x1="96.11" y1="395.25" x2="101.42" y2="396.67"/><line x1="99.17" y1="396.07" x2="104.49" y2="397.49"/><line x1="102.24" y1="396.89" x2="107.56" y2="398.31"/><line x1="105.31" y1="397.71" x2="110.63" y2="399.14"/><line x1="108.38" y1="398.54" x2="113.7" y2="399.96"/><line x1="111.45" y1="399.36" x2="116.77" y2="400.78"/><line x1="96.69" y1="392.36" x2="102.11" y2="393.3"/><line x1="99.64" y1="392.87" x2="105.06" y2="393.81"/><line x1="102.59" y1="393.39" x2="108.01" y2="394.33"/><line x1="105.54" y1="393.9" x2="110.96" y2="394.84"/><line x1="108.49" y1="394.41" x2="113.91" y2="395.35"/><line x1="94.75" y1="388.68" x2="100.24" y2="389.01"/><line x1="98.36" y1="388.89" x2="103.85" y2="389.22"/><line x1="101.98" y1="389.11" x2="107.47" y2="389.44"/><line x1="105.59" y1="389.33" x2="111.08" y2="389.66"/><line x1="109.2" y1="389.55" x2="114.69" y2="389.88"/><line x1="96.56" y1="385.04" x2="102.05" y2="384.71"/><line x1="100.17" y1="384.83" x2="105.66" y2="384.5"/><line x1="103.78" y1="384.61" x2="109.27" y2="384.28"/><line x1="107.39" y1="384.39" x2="112.88" y2="384.06"/><line x1="95.22" y1="381.73" x2="100.63" y2="380.78"/><line x1="98.17" y1="381.21" x2="103.59" y2="380.27"/><line x1="101.12" y1="380.7" x2="106.54" y2="379.76"/><line x1="104.07" y1="380.19" x2="109.49" y2="379.25"/><line x1="107.02" y1="379.67" x2="112.44" y2="378.73"/><line x1="109.97" y1="379.16" x2="115.39" y2="378.22"/><line x1="97.64" y1="378.17" x2="102.95" y2="376.75"/><line x1="100.71" y1="377.35" x2="106.02" y2="375.92"/><line x1="103.78" y1="376.52" x2="109.09" y2="375.1"/><line x1="106.85" y1="375.7" x2="112.16" y2="374.28"/><line x1="109.92" y1="374.88" x2="115.23" y2="373.46"/><line x1="97.36" y1="375.89" x2="102.58" y2="374.15"/><line x1="100.6" y1="374.81" x2="105.82" y2="373.07"/><line x1="103.84" y1="373.73" x2="109.05" y2="371.99"/><line x1="107.08" y1="372.65" x2="112.29" y2="370.91"/><line x1="110.32" y1="371.57" x2="115.53" y2="369.82"/><line x1="113.56" y1="370.48" x2="118.77" y2="368.74"/><line x1="100.34" y1="373.3" x2="105.49" y2="371.39"/><line x1="103.21" y1="372.24" x2="108.37" y2="370.32"/><line x1="106.09" y1="371.17" x2="111.24" y2="369.26"/><line x1="108.96" y1="370.1" x2="114.12" y2="368.19"/><line x1="111.84" y1="369.04" x2="117" y2="367.12"/><line x1="114.71" y1="367.97" x2="119.87" y2="366.06"/><line x1="100.63" y1="372.54" x2="105.78" y2="370.58"/><line x1="103.71" y1="371.37" x2="108.85" y2="369.41"/><line x1="106.79" y1="370.2" x2="111.93" y2="368.24"/><line x1="109.86" y1="369.03" x2="115" y2="367.07"/><line x1="112.94" y1="367.86" x2="118.08" y2="365.9"/><line x1="116.01" y1="366.69" x2="121.15" y2="364.73"/><line x1="119.09" y1="365.52" x2="124.23" y2="363.56"/><line x1="103.87" y1="371.56" x2="109.04" y2="369.66"/><line x1="106.69" y1="370.52" x2="111.86" y2="368.63"/><line x1="109.51" y1="369.49" x2="114.67" y2="367.6"/><line x1="112.33" y1="368.46" x2="117.49" y2="366.57"/><line x1="115.15" y1="367.43" x2="120.31" y2="365.53"/><line x1="117.96" y1="366.39" x2="123.13" y2="364.5"/><line x1="120.78" y1="365.36" x2="125.95" y2="363.47"/><line x1="123.35" y1="383.7" x2="123.35" y2="389.2"/><line x1="123.41" y1="388.13" x2="121.31" y2="393.21"/><line x1="122.43" y1="392.12" x2="118.54" y2="396"/><line x1="120.57" y1="395.05" x2="115.49" y2="397.15"/><line x1="118.1" y1="396.48" x2="112.6" y2="396.48"/><line x1="115.4" y1="396.2" x2="110.32" y2="394.09"/><line x1="112.89" y1="394.24" x2="109" y2="390.35"/><line x1="110.94" y1="390.9" x2="108.83" y2="385.82"/><line x1="109.85" y1="386.7" x2="109.85" y2="381.2"/><line x1="109.79" y1="382.27" x2="111.89" y2="377.19"/><line x1="110.77" y1="378.28" x2="114.66" y2="374.4"/><line x1="112.63" y1="375.35" x2="117.71" y2="373.25"/><line x1="115.1" y1="373.92" x2="120.6" y2="373.92"/><line x1="117.8" y1="374.2" x2="122.88" y2="376.31"/><line x1="120.31" y1="376.16" x2="124.2" y2="380.05"/><line x1="122.26" y1="379.5" x2="124.37" y2="384.58"/><line x1="135.96" y1="364.99" x2="140.19" y2="366.53"/><line x1="143.08" y1="366.32" x2="146.65" y2="369.06"/><line x1="150" y1="370.22" x2="152.58" y2="373.9"/><line x1="154.4" y1="377.07" x2="155.75" y2="381.36"/><line x1="157.17" y1="385.2" x2="157.17" y2="389.7"/><line x1="157.24" y1="394.23" x2="155.89" y2="398.52"/><line x1="152.59" y1="402" x2="150.01" y2="405.69"/><line x1="144.8" y1="406.31" x2="141.23" y2="409.05"/><line x1="137.07" y1="408.46" x2="132.84" y2="410"/></g><g fill="#2e3a98"><circle cx="103.87" cy="402.27" r="0.95"/><circle cx="106.69" cy="403.31" r="0.95"/><circle cx="109.51" cy="404.34" r="0.95"/><circle cx="112.33" cy="405.37" r="0.95"/><circle cx="115.15" cy="406.4" r="0.95"/><circle cx="117.96" cy="407.44" r="0.95"/><circle cx="120.78" cy="408.47" r="0.95"/><circle cx="123.6" cy="409.5" r="0.95"/><circle cx="103.57" cy="402.41" r="0.95"/><circle cx="106.65" cy="403.58" r="0.95"/><circle cx="109.72" cy="404.75" r="0.95"/><circle cx="112.8" cy="405.92" r="0.95"/><circle cx="115.88" cy="407.09" r="0.95"/><circle cx="118.95" cy="408.26" r="0.95"/><circle cx="100.31" cy="400.51" r="0.95"/><circle cx="103.18" cy="401.58" r="0.95"/><circle cx="106.06" cy="402.65" r="0.95"/><circle cx="108.93" cy="403.71" r="0.95"/><circle cx="111.81" cy="404.78" r="0.95"/><circle cx="114.68" cy="405.85" r="0.95"/><circle cx="117.56" cy="406.91" r="0.95"/><circle cx="100.4" cy="398.95" r="0.95"/><circle cx="103.64" cy="400.03" r="0.95"/><circle cx="106.88" cy="401.12" r="0.95"/><circle cx="110.12" cy="402.2" r="0.95"/><circle cx="113.36" cy="403.28" r="0.95"/><circle cx="97.55" cy="395.64" r="0.95"/><circle cx="100.62" cy="396.46" r="0.95"/><circle cx="103.69" cy="397.28" r="0.95"/><circle cx="106.76" cy="398.1" r="0.95"/><circle cx="109.83" cy="398.92" r="0.95"/><circle cx="112.9" cy="399.74" r="0.95"/><circle cx="98.17" cy="392.62" r="0.95"/><circle cx="101.12" cy="393.13" r="0.95"/><circle cx="104.07" cy="393.64" r="0.95"/><circle cx="107.02" cy="394.15" r="0.95"/><circle cx="109.97" cy="394.67" r="0.95"/><circle cx="96.25" cy="388.77" r="0.95"/><circle cx="99.86" cy="388.98" r="0.95"/><circle cx="103.47" cy="389.2" r="0.95"/><circle cx="107.08" cy="389.42" r="0.95"/><circle cx="110.69" cy="389.64" r="0.95"/><circle cx="98.06" cy="384.95" r="0.95"/><circle cx="101.67" cy="384.74" r="0.95"/><circle cx="105.28" cy="384.52" r="0.95"/><circle cx="108.89" cy="384.3" r="0.95"/><circle cx="96.69" cy="381.47" r="0.95"/><circle cx="99.64" cy="380.96" r="0.95"/><circle cx="102.59" cy="380.44" r="0.95"/><circle cx="105.54" cy="379.93" r="0.95"/><circle cx="108.49" cy="379.42" r="0.95"/><circle cx="111.44" cy="378.91" r="0.95"/><circle cx="99.09" cy="377.78" r="0.95"/><circle cx="102.16" cy="376.96" r="0.95"/><circle cx="105.23" cy="376.14" r="0.95"/><circle cx="108.3" cy="375.32" r="0.95"/><circle cx="111.37" cy="374.49" r="0.95"/><circle cx="98.78" cy="375.42" r="0.95"/><circle cx="102.02" cy="374.34" r="0.95"/><circle cx="105.26" cy="373.25" r="0.95"/><circle cx="108.5" cy="372.17" r="0.95"/><circle cx="111.74" cy="371.09" r="0.95"/><circle cx="114.98" cy="370.01" r="0.95"/><circle cx="101.74" cy="372.78" r="0.95"/><circle cx="104.62" cy="371.72" r="0.95"/><circle cx="107.49" cy="370.65" r="0.95"/><circle cx="110.37" cy="369.58" r="0.95"/><circle cx="113.25" cy="368.52" r="0.95"/><circle cx="116.12" cy="367.45" r="0.95"/><circle cx="102.04" cy="372" r="0.95"/><circle cx="105.11" cy="370.83" r="0.95"/><circle cx="108.19" cy="369.66" r="0.95"/><circle cx="111.26" cy="368.49" r="0.95"/><circle cx="114.34" cy="367.32" r="0.95"/><circle cx="117.41" cy="366.15" r="0.95"/><circle cx="120.49" cy="364.99" r="0.95"/><circle cx="105.28" cy="371.04" r="0.95"/><circle cx="108.1" cy="370.01" r="0.95"/><circle cx="110.92" cy="368.98" r="0.95"/><circle cx="113.74" cy="367.94" r="0.95"/><circle cx="116.56" cy="366.91" r="0.95"/><circle cx="119.37" cy="365.88" r="0.95"/><circle cx="122.19" cy="364.85" r="0.95"/><circle cx="123.35" cy="385.2" r="0.95"/><circle cx="122.84" cy="389.52" r="0.95"/><circle cx="121.37" cy="393.18" r="0.95"/><circle cx="119.18" cy="395.62" r="0.95"/><circle cx="116.6" cy="396.48" r="0.95"/><circle cx="114.02" cy="395.62" r="0.95"/><circle cx="111.83" cy="393.18" r="0.95"/><circle cx="110.36" cy="389.52" r="0.95"/><circle cx="109.85" cy="385.2" r="0.95"/><circle cx="110.36" cy="380.88" r="0.95"/><circle cx="111.83" cy="377.22" r="0.95"/><circle cx="114.02" cy="374.78" r="0.95"/><circle cx="116.6" cy="373.92" r="0.95"/><circle cx="119.18" cy="374.78" r="0.95"/><circle cx="121.37" cy="377.22" r="0.95"/><circle cx="122.84" cy="380.88" r="0.95"/><circle cx="128.6" cy="365.33" r="1.15"/><circle cx="134.6" cy="365.33" r="1.15"/><circle cx="140.6" cy="365.33" r="1.15"/><circle cx="131.6" cy="370.23" r="1.15"/><circle cx="137.6" cy="370.23" r="1.15"/><circle cx="143.6" cy="370.23" r="1.15"/><circle cx="149.6" cy="370.23" r="1.15"/><circle cx="128.6" cy="375.13" r="1.15"/><circle cx="134.6" cy="375.13" r="1.15"/><circle cx="140.6" cy="375.13" r="1.15"/><circle cx="146.6" cy="375.13" r="1.15"/><circle cx="152.6" cy="375.13" r="1.15"/><circle cx="131.6" cy="380.03" r="1.15"/><circle cx="137.6" cy="380.03" r="1.15"/><circle cx="143.6" cy="380.03" r="1.15"/><circle cx="149.6" cy="380.03" r="1.15"/><circle cx="155.6" cy="380.03" r="1.15"/><circle cx="128.6" cy="384.93" r="1.15"/><circle cx="134.6" cy="384.93" r="1.15"/><circle cx="140.6" cy="384.93" r="1.15"/><circle cx="146.6" cy="384.93" r="1.15"/><circle cx="152.6" cy="384.93" r="1.15"/><circle cx="158.6" cy="384.93" r="1.15"/><circle cx="131.6" cy="389.83" r="1.15"/><circle cx="137.6" cy="389.83" r="1.15"/><circle cx="143.6" cy="389.83" r="1.15"/><circle cx="149.6" cy="389.83" r="1.15"/><circle cx="155.6" cy="389.83" r="1.15"/><circle cx="128.6" cy="394.73" r="1.15"/><circle cx="134.6" cy="394.73" r="1.15"/><circle cx="140.6" cy="394.73" r="1.15"/><circle cx="146.6" cy="394.73" r="1.15"/><circle cx="152.6" cy="394.73" r="1.15"/><circle cx="158.6" cy="394.73" r="1.15"/><circle cx="131.6" cy="399.63" r="1.15"/><circle cx="137.6" cy="399.63" r="1.15"/><circle cx="143.6" cy="399.63" r="1.15"/><circle cx="149.6" cy="399.63" r="1.15"/><circle cx="155.6" cy="399.63" r="1.15"/><circle cx="128.6" cy="404.53" r="1.15"/><circle cx="134.6" cy="404.53" r="1.15"/><circle cx="140.6" cy="404.53" r="1.15"/><circle cx="146.6" cy="404.53" r="1.15"/><circle cx="131.6" cy="409.43" r="1.15"/><circle cx="137.6" cy="409.43" r="1.15"/><circle cx="135.96" cy="364.99" r="0.95"/><circle cx="143.08" cy="366.32" r="0.95"/><circle cx="150" cy="370.22" r="0.95"/><circle cx="154.4" cy="377.07" r="0.95"/><circle cx="157.17" cy="385.2" r="0.95"/><circle cx="157.24" cy="394.23" r="0.95"/><circle cx="152.59" cy="402" r="0.95"/><circle cx="144.8" cy="406.31" r="0.95"/><circle cx="137.07" cy="408.46" r="0.95"/></g>
<g stroke="#8a4060" stroke-width="1.25" stroke-linecap="round"><line x1="95" y1="408.97" x2="97.47" y2="410.67"/><line x1="101" y1="408.97" x2="103.47" y2="410.67"/><line x1="107" y1="408.97" x2="109.47" y2="410.67"/><line x1="98" y1="413.87" x2="100.47" y2="415.57"/><line x1="104" y1="413.87" x2="106.47" y2="415.57"/><line x1="110" y1="413.87" x2="112.47" y2="415.57"/><line x1="116" y1="413.87" x2="118.47" y2="415.57"/><line x1="95" y1="418.77" x2="97.47" y2="420.47"/><line x1="101" y1="418.77" x2="103.47" y2="420.47"/><line x1="107" y1="418.77" x2="109.47" y2="420.47"/><line x1="113" y1="418.77" x2="115.47" y2="420.47"/><line x1="119" y1="418.77" x2="121.47" y2="420.47"/><line x1="98" y1="423.67" x2="100.47" y2="425.37"/><line x1="104" y1="423.67" x2="106.47" y2="425.37"/><line x1="110" y1="423.67" x2="112.47" y2="425.37"/><line x1="116" y1="423.67" x2="118.47" y2="425.37"/><line x1="122" y1="423.67" x2="124.47" y2="425.37"/><line x1="95" y1="428.57" x2="97.47" y2="430.27"/><line x1="101" y1="428.57" x2="103.47" y2="430.27"/><line x1="107" y1="428.57" x2="109.47" y2="430.27"/><line x1="113" y1="428.57" x2="115.47" y2="430.27"/><line x1="119" y1="428.57" x2="121.47" y2="430.27"/><line x1="125" y1="428.57" x2="127.47" y2="430.27"/><line x1="98" y1="433.47" x2="100.47" y2="435.17"/><line x1="104" y1="433.47" x2="106.47" y2="435.17"/><line x1="110" y1="433.47" x2="112.47" y2="435.17"/><line x1="116" y1="433.47" x2="118.47" y2="435.17"/><line x1="122" y1="433.47" x2="124.47" y2="435.17"/><line x1="95" y1="438.37" x2="97.47" y2="440.07"/><line x1="101" y1="438.37" x2="103.47" y2="440.07"/><line x1="107" y1="438.37" x2="109.47" y2="440.07"/><line x1="113" y1="438.37" x2="115.47" y2="440.07"/><line x1="119" y1="438.37" x2="121.47" y2="440.07"/><line x1="125" y1="438.37" x2="127.47" y2="440.07"/><line x1="98" y1="443.27" x2="100.47" y2="444.97"/><line x1="104" y1="443.27" x2="106.47" y2="444.97"/><line x1="110" y1="443.27" x2="112.47" y2="444.97"/><line x1="116" y1="443.27" x2="118.47" y2="444.97"/><line x1="122" y1="443.27" x2="124.47" y2="444.97"/><line x1="95" y1="448.17" x2="97.47" y2="449.87"/><line x1="101" y1="448.17" x2="103.47" y2="449.87"/><line x1="107" y1="448.17" x2="109.47" y2="449.87"/><line x1="113" y1="448.17" x2="115.47" y2="449.87"/><line x1="98" y1="453.07" x2="100.47" y2="454.77"/><line x1="104" y1="453.07" x2="106.47" y2="454.77"/></g><g stroke="#c84a48" stroke-width="1.5" stroke-linecap="round"><line x1="67.11" y1="445.22" x2="72.32" y2="446.97"/><line x1="70.18" y1="446.25" x2="75.39" y2="448"/><line x1="73.24" y1="447.28" x2="78.46" y2="449.02"/><line x1="76.31" y1="448.3" x2="81.52" y2="450.05"/><line x1="79.38" y1="449.33" x2="84.59" y2="451.08"/><line x1="82.44" y1="450.36" x2="87.66" y2="452.1"/><line x1="85.51" y1="451.38" x2="90.73" y2="453.13"/><line x1="88.58" y1="452.41" x2="93.79" y2="454.16"/><line x1="66.73" y1="445.27" x2="71.93" y2="447.06"/><line x1="69.61" y1="446.26" x2="74.81" y2="448.06"/><line x1="72.49" y1="447.26" x2="77.69" y2="449.06"/><line x1="75.38" y1="448.26" x2="80.58" y2="450.05"/><line x1="78.26" y1="449.25" x2="83.46" y2="451.05"/><line x1="81.15" y1="450.25" x2="86.34" y2="452.05"/><line x1="84.03" y1="451.25" x2="89.23" y2="453.04"/><line x1="63.56" y1="443.47" x2="68.77" y2="445.22"/><line x1="66.72" y1="444.53" x2="71.94" y2="446.28"/><line x1="69.89" y1="445.6" x2="75.1" y2="447.34"/><line x1="73.05" y1="446.66" x2="78.26" y2="448.4"/><line x1="76.21" y1="447.72" x2="81.43" y2="449.46"/><line x1="79.37" y1="448.78" x2="84.59" y2="450.53"/><line x1="82.54" y1="449.84" x2="87.75" y2="451.59"/><line x1="63.52" y1="441.88" x2="68.79" y2="443.46"/><line x1="66.51" y1="442.77" x2="71.78" y2="444.36"/><line x1="69.49" y1="443.67" x2="74.76" y2="445.25"/><line x1="72.48" y1="444.57" x2="77.75" y2="446.15"/><line x1="75.46" y1="445.46" x2="80.73" y2="447.04"/><line x1="78.45" y1="446.36" x2="83.72" y2="447.94"/><line x1="60.79" y1="438.76" x2="66.14" y2="440.04"/><line x1="63.63" y1="439.44" x2="68.98" y2="440.72"/><line x1="66.47" y1="440.12" x2="71.82" y2="441.4"/><line x1="69.32" y1="440.8" x2="74.66" y2="442.08"/><line x1="72.16" y1="441.48" x2="77.51" y2="442.76"/><line x1="75" y1="442.16" x2="80.35" y2="443.44"/><line x1="77.84" y1="442.84" x2="83.19" y2="444.12"/><line x1="61.55" y1="435.87" x2="66.99" y2="436.71"/><line x1="64.85" y1="436.38" x2="70.28" y2="437.22"/><line x1="68.14" y1="436.89" x2="73.57" y2="437.73"/><line x1="71.43" y1="437.4" x2="76.86" y2="438.24"/><line x1="74.72" y1="437.91" x2="80.15" y2="438.75"/><line x1="59.45" y1="432.19" x2="64.95" y2="432.49"/><line x1="62.68" y1="432.36" x2="68.17" y2="432.66"/><line x1="65.91" y1="432.54" x2="71.4" y2="432.83"/><line x1="69.14" y1="432.71" x2="74.63" y2="433.01"/><line x1="72.37" y1="432.88" x2="77.86" y2="433.18"/><line x1="75.6" y1="433.06" x2="81.09" y2="433.35"/><line x1="61.07" y1="428.58" x2="66.56" y2="428.29"/><line x1="64.3" y1="428.41" x2="69.79" y2="428.12"/><line x1="67.53" y1="428.24" x2="73.02" y2="427.94"/><line x1="70.75" y1="428.06" x2="76.25" y2="427.77"/><line x1="73.98" y1="427.89" x2="79.47" y2="427.6"/><line x1="59.91" y1="425.25" x2="65.34" y2="424.4"/><line x1="63.2" y1="424.74" x2="68.64" y2="423.89"/><line x1="66.49" y1="424.23" x2="71.93" y2="423.38"/><line x1="69.78" y1="423.72" x2="75.22" y2="422.87"/><line x1="73.07" y1="423.21" x2="78.51" y2="422.36"/><line x1="76.36" y1="422.7" x2="81.8" y2="421.86"/><line x1="62.21" y1="421.77" x2="67.56" y2="420.48"/><line x1="65.05" y1="421.08" x2="70.4" y2="419.8"/><line x1="67.89" y1="420.4" x2="73.24" y2="419.12"/><line x1="70.74" y1="419.72" x2="76.09" y2="418.44"/><line x1="73.58" y1="419.04" x2="78.93" y2="417.76"/><line x1="76.42" y1="418.36" x2="81.77" y2="417.08"/><line x1="62.03" y1="419.43" x2="67.3" y2="417.85"/><line x1="65.02" y1="418.54" x2="70.28" y2="416.95"/><line x1="68" y1="417.64" x2="73.27" y2="416.06"/><line x1="70.99" y1="416.74" x2="76.25" y2="415.16"/><line x1="73.97" y1="415.85" x2="79.24" y2="414.26"/><line x1="76.96" y1="414.95" x2="82.23" y2="413.37"/><line x1="79.94" y1="414.05" x2="85.21" y2="412.47"/><line x1="65.14" y1="416.86" x2="70.36" y2="415.11"/><line x1="68.3" y1="415.8" x2="73.52" y2="414.05"/><line x1="71.47" y1="414.74" x2="76.68" y2="412.99"/><line x1="74.63" y1="413.67" x2="79.84" y2="411.93"/><line x1="77.79" y1="412.61" x2="83.01" y2="410.87"/><line x1="80.96" y1="411.55" x2="86.17" y2="409.81"/><line x1="65.29" y1="416.09" x2="70.48" y2="414.3"/><line x1="68.17" y1="415.1" x2="73.37" y2="413.3"/><line x1="71.05" y1="414.1" x2="76.25" y2="412.3"/><line x1="73.94" y1="413.1" x2="79.13" y2="411.31"/><line x1="76.82" y1="412.11" x2="82.02" y2="410.31"/><line x1="79.7" y1="411.11" x2="84.9" y2="409.31"/><line x1="82.59" y1="410.11" x2="87.79" y2="408.32"/><line x1="85.47" y1="409.12" x2="90.67" y2="407.32"/><line x1="68.64" y1="415.12" x2="73.86" y2="413.38"/><line x1="71.71" y1="414.1" x2="76.92" y2="412.35"/><line x1="74.78" y1="413.07" x2="79.99" y2="411.32"/><line x1="77.84" y1="412.04" x2="83.06" y2="410.3"/><line x1="80.91" y1="411.02" x2="86.13" y2="409.27"/><line x1="83.98" y1="409.99" x2="89.19" y2="408.24"/><line x1="87.04" y1="408.96" x2="92.26" y2="407.22"/><line x1="89.75" y1="427.8" x2="89.75" y2="433.3"/><line x1="89.81" y1="432.18" x2="87.71" y2="437.27"/><line x1="88.83" y1="436.13" x2="84.94" y2="440.02"/><line x1="86.97" y1="439.04" x2="81.89" y2="441.14"/><line x1="84.5" y1="440.46" x2="79" y2="440.46"/><line x1="81.8" y1="440.18" x2="76.72" y2="438.08"/><line x1="79.29" y1="438.25" x2="75.4" y2="434.36"/><line x1="77.34" y1="434.96" x2="75.23" y2="429.88"/><line x1="76.25" y1="430.8" x2="76.25" y2="425.3"/><line x1="76.19" y1="426.42" x2="78.29" y2="421.33"/><line x1="77.17" y1="422.47" x2="81.06" y2="418.58"/><line x1="79.03" y1="419.56" x2="84.11" y2="417.46"/><line x1="81.5" y1="418.14" x2="87" y2="418.14"/><line x1="84.2" y1="418.42" x2="89.28" y2="420.52"/><line x1="86.71" y1="420.35" x2="90.6" y2="424.24"/><line x1="88.66" y1="423.64" x2="90.77" y2="428.72"/><line x1="102.56" y1="408.54" x2="106.78" y2="410.08"/><line x1="110.06" y1="409.67" x2="113.63" y2="412.41"/><line x1="116.83" y1="414.02" x2="119.41" y2="417.7"/><line x1="121.84" y1="420.84" x2="123.19" y2="425.13"/><line x1="125.38" y1="429.3" x2="125.38" y2="433.8"/><line x1="123.9" y1="438.41" x2="122.55" y2="442.7"/><line x1="118.26" y1="445.59" x2="115.68" y2="449.27"/><line x1="110.93" y1="450.06" x2="107.36" y2="452.8"/><line x1="103.22" y1="451.89" x2="99" y2="453.43"/></g><g fill="#2e3a98"><circle cx="68.53" cy="445.7" r="0.95"/><circle cx="71.6" cy="446.73" r="0.95"/><circle cx="74.66" cy="447.75" r="0.95"/><circle cx="77.73" cy="448.78" r="0.95"/><circle cx="80.8" cy="449.81" r="0.95"/><circle cx="83.87" cy="450.83" r="0.95"/><circle cx="86.93" cy="451.86" r="0.95"/><circle cx="90" cy="452.89" r="0.95"/><circle cx="68.15" cy="445.76" r="0.95"/><circle cx="71.03" cy="446.75" r="0.95"/><circle cx="73.91" cy="447.75" r="0.95"/><circle cx="76.8" cy="448.75" r="0.95"/><circle cx="79.68" cy="449.74" r="0.95"/><circle cx="82.56" cy="450.74" r="0.95"/><circle cx="85.45" cy="451.74" r="0.95"/><circle cx="64.98" cy="443.95" r="0.95"/><circle cx="68.15" cy="445.01" r="0.95"/><circle cx="71.31" cy="446.07" r="0.95"/><circle cx="74.47" cy="447.13" r="0.95"/><circle cx="77.63" cy="448.19" r="0.95"/><circle cx="80.8" cy="449.25" r="0.95"/><circle cx="83.96" cy="450.31" r="0.95"/><circle cx="64.96" cy="442.31" r="0.95"/><circle cx="67.95" cy="443.2" r="0.95"/><circle cx="70.93" cy="444.1" r="0.95"/><circle cx="73.92" cy="445" r="0.95"/><circle cx="76.9" cy="445.89" r="0.95"/><circle cx="79.89" cy="446.79" r="0.95"/><circle cx="62.25" cy="439.1" r="0.95"/><circle cx="65.09" cy="439.79" r="0.95"/><circle cx="67.93" cy="440.47" r="0.95"/><circle cx="70.77" cy="441.15" r="0.95"/><circle cx="73.62" cy="441.83" r="0.95"/><circle cx="76.46" cy="442.51" r="0.95"/><circle cx="79.3" cy="443.19" r="0.95"/><circle cx="63.04" cy="436.1" r="0.95"/><circle cx="66.33" cy="436.61" r="0.95"/><circle cx="69.62" cy="437.12" r="0.95"/><circle cx="72.91" cy="437.63" r="0.95"/><circle cx="76.2" cy="438.14" r="0.95"/><circle cx="60.95" cy="432.27" r="0.95"/><circle cx="64.18" cy="432.44" r="0.95"/><circle cx="67.41" cy="432.62" r="0.95"/><circle cx="70.64" cy="432.79" r="0.95"/><circle cx="73.87" cy="432.96" r="0.95"/><circle cx="77.09" cy="433.14" r="0.95"/><circle cx="62.57" cy="428.5" r="0.95"/><circle cx="65.79" cy="428.33" r="0.95"/><circle cx="69.02" cy="428.16" r="0.95"/><circle cx="72.25" cy="427.98" r="0.95"/><circle cx="75.48" cy="427.81" r="0.95"/><circle cx="61.39" cy="425.02" r="0.95"/><circle cx="64.68" cy="424.51" r="0.95"/><circle cx="67.97" cy="424" r="0.95"/><circle cx="71.26" cy="423.49" r="0.95"/><circle cx="74.55" cy="422.98" r="0.95"/><circle cx="77.84" cy="422.47" r="0.95"/><circle cx="63.67" cy="421.42" r="0.95"/><circle cx="66.51" cy="420.74" r="0.95"/><circle cx="69.35" cy="420.06" r="0.95"/><circle cx="72.2" cy="419.37" r="0.95"/><circle cx="75.04" cy="418.69" r="0.95"/><circle cx="77.88" cy="418.01" r="0.95"/><circle cx="63.47" cy="419" r="0.95"/><circle cx="66.45" cy="418.1" r="0.95"/><circle cx="69.44" cy="417.21" r="0.95"/><circle cx="72.42" cy="416.31" r="0.95"/><circle cx="75.41" cy="415.41" r="0.95"/><circle cx="78.39" cy="414.52" r="0.95"/><circle cx="81.38" cy="413.62" r="0.95"/><circle cx="66.56" cy="416.38" r="0.95"/><circle cx="69.73" cy="415.32" r="0.95"/><circle cx="72.89" cy="414.26" r="0.95"/><circle cx="76.05" cy="413.2" r="0.95"/><circle cx="79.21" cy="412.14" r="0.95"/><circle cx="82.38" cy="411.08" r="0.95"/><circle cx="66.7" cy="415.6" r="0.95"/><circle cx="69.59" cy="414.61" r="0.95"/><circle cx="72.47" cy="413.61" r="0.95"/><circle cx="75.35" cy="412.61" r="0.95"/><circle cx="78.24" cy="411.62" r="0.95"/><circle cx="81.12" cy="410.62" r="0.95"/><circle cx="84.01" cy="409.62" r="0.95"/><circle cx="86.89" cy="408.63" r="0.95"/><circle cx="70.06" cy="414.65" r="0.95"/><circle cx="73.13" cy="413.62" r="0.95"/><circle cx="76.2" cy="412.59" r="0.95"/><circle cx="79.27" cy="411.57" r="0.95"/><circle cx="82.33" cy="410.54" r="0.95"/><circle cx="85.4" cy="409.51" r="0.95"/><circle cx="88.47" cy="408.49" r="0.95"/><circle cx="89.75" cy="429.3" r="0.95"/><circle cx="89.24" cy="433.57" r="0.95"/><circle cx="87.77" cy="437.19" r="0.95"/><circle cx="85.58" cy="439.61" r="0.95"/><circle cx="83" cy="440.46" r="0.95"/><circle cx="80.42" cy="439.61" r="0.95"/><circle cx="78.23" cy="437.19" r="0.95"/><circle cx="76.76" cy="433.57" r="0.95"/><circle cx="76.25" cy="429.3" r="0.95"/><circle cx="76.76" cy="425.03" r="0.95"/><circle cx="78.23" cy="421.41" r="0.95"/><circle cx="80.42" cy="418.99" r="0.95"/><circle cx="83" cy="418.14" r="0.95"/><circle cx="85.58" cy="418.99" r="0.95"/><circle cx="87.77" cy="421.41" r="0.95"/><circle cx="89.24" cy="425.03" r="0.95"/><circle cx="95" cy="408.97" r="1.35"/><circle cx="101" cy="408.97" r="1.35"/><circle cx="107" cy="408.97" r="1.35"/><circle cx="98" cy="413.87" r="1.35"/><circle cx="104" cy="413.87" r="1.35"/><circle cx="110" cy="413.87" r="1.35"/><circle cx="116" cy="413.87" r="1.35"/><circle cx="95" cy="418.77" r="1.35"/><circle cx="101" cy="418.77" r="1.35"/><circle cx="107" cy="418.77" r="1.35"/><circle cx="113" cy="418.77" r="1.35"/><circle cx="119" cy="418.77" r="1.35"/><circle cx="98" cy="423.67" r="1.35"/><circle cx="104" cy="423.67" r="1.35"/><circle cx="110" cy="423.67" r="1.35"/><circle cx="116" cy="423.67" r="1.35"/><circle cx="122" cy="423.67" r="1.35"/><circle cx="95" cy="428.57" r="1.35"/><circle cx="101" cy="428.57" r="1.35"/><circle cx="107" cy="428.57" r="1.35"/><circle cx="113" cy="428.57" r="1.35"/><circle cx="119" cy="428.57" r="1.35"/><circle cx="125" cy="428.57" r="1.35"/><circle cx="98" cy="433.47" r="1.35"/><circle cx="104" cy="433.47" r="1.35"/><circle cx="110" cy="433.47" r="1.35"/><circle cx="116" cy="433.47" r="1.35"/><circle cx="122" cy="433.47" r="1.35"/><circle cx="95" cy="438.37" r="1.35"/><circle cx="101" cy="438.37" r="1.35"/><circle cx="107" cy="438.37" r="1.35"/><circle cx="113" cy="438.37" r="1.35"/><circle cx="119" cy="438.37" r="1.35"/><circle cx="125" cy="438.37" r="1.35"/><circle cx="98" cy="443.27" r="1.35"/><circle cx="104" cy="443.27" r="1.35"/><circle cx="110" cy="443.27" r="1.35"/><circle cx="116" cy="443.27" r="1.35"/><circle cx="122" cy="443.27" r="1.35"/><circle cx="95" cy="448.17" r="1.35"/><circle cx="101" cy="448.17" r="1.35"/><circle cx="107" cy="448.17" r="1.35"/><circle cx="113" cy="448.17" r="1.35"/><circle cx="98" cy="453.07" r="1.35"/><circle cx="104" cy="453.07" r="1.35"/><circle cx="102.56" cy="408.54" r="0.95"/><circle cx="110.06" cy="409.67" r="0.95"/><circle cx="116.83" cy="414.02" r="0.95"/><circle cx="121.84" cy="420.84" r="0.95"/><circle cx="125.38" cy="429.3" r="0.95"/><circle cx="123.9" cy="438.41" r="0.95"/><circle cx="118.26" cy="445.59" r="0.95"/><circle cx="110.93" cy="450.06" r="0.95"/><circle cx="103.22" cy="451.89" r="0.95"/></g>
<g stroke="#b8404e" stroke-width="2.0" stroke-linecap="round"><line x1="75.9" y1="457.36" x2="78.85" y2="456.12"/><line x1="81.9" y1="457.36" x2="84.85" y2="456.12"/><line x1="87.9" y1="457.36" x2="90.85" y2="456.12"/><line x1="93.9" y1="457.36" x2="96.85" y2="456.12"/><line x1="78.9" y1="462.26" x2="81.85" y2="461.02"/><line x1="84.9" y1="462.26" x2="87.85" y2="461.02"/><line x1="90.9" y1="462.26" x2="93.85" y2="461.02"/><line x1="96.9" y1="462.26" x2="99.85" y2="461.02"/><line x1="75.9" y1="467.16" x2="78.85" y2="465.92"/><line x1="81.9" y1="467.16" x2="84.85" y2="465.92"/><line x1="87.9" y1="467.16" x2="90.85" y2="465.92"/><line x1="93.9" y1="467.16" x2="96.85" y2="465.92"/><line x1="99.9" y1="467.16" x2="102.85" y2="465.92"/><line x1="105.9" y1="467.16" x2="108.85" y2="465.92"/><line x1="78.9" y1="472.06" x2="81.85" y2="470.82"/><line x1="84.9" y1="472.06" x2="87.85" y2="470.82"/><line x1="90.9" y1="472.06" x2="93.85" y2="470.82"/><line x1="96.9" y1="472.06" x2="99.85" y2="470.82"/><line x1="102.9" y1="472.06" x2="105.85" y2="470.82"/><line x1="75.9" y1="476.96" x2="78.85" y2="475.72"/><line x1="81.9" y1="476.96" x2="84.85" y2="475.72"/><line x1="87.9" y1="476.96" x2="90.85" y2="475.72"/><line x1="93.9" y1="476.96" x2="96.85" y2="475.72"/><line x1="99.9" y1="476.96" x2="102.85" y2="475.72"/><line x1="105.9" y1="476.96" x2="108.85" y2="475.72"/><line x1="78.9" y1="481.86" x2="81.85" y2="480.62"/><line x1="84.9" y1="481.86" x2="87.85" y2="480.62"/><line x1="90.9" y1="481.86" x2="93.85" y2="480.62"/><line x1="96.9" y1="481.86" x2="99.85" y2="480.62"/><line x1="102.9" y1="481.86" x2="105.85" y2="480.62"/><line x1="108.9" y1="481.86" x2="111.85" y2="480.62"/><line x1="75.9" y1="486.76" x2="78.85" y2="485.52"/><line x1="81.9" y1="486.76" x2="84.85" y2="485.52"/><line x1="87.9" y1="486.76" x2="90.85" y2="485.52"/><line x1="93.9" y1="486.76" x2="96.85" y2="485.52"/><line x1="99.9" y1="486.76" x2="102.85" y2="485.52"/><line x1="105.9" y1="486.76" x2="108.85" y2="485.52"/><line x1="78.9" y1="491.66" x2="81.85" y2="490.42"/><line x1="84.9" y1="491.66" x2="87.85" y2="490.42"/><line x1="90.9" y1="491.66" x2="93.85" y2="490.42"/><line x1="96.9" y1="491.66" x2="99.85" y2="490.42"/><line x1="102.9" y1="491.66" x2="105.85" y2="490.42"/><line x1="75.9" y1="496.56" x2="78.85" y2="495.32"/><line x1="81.9" y1="496.56" x2="84.85" y2="495.32"/><line x1="87.9" y1="496.56" x2="90.85" y2="495.32"/><line x1="93.9" y1="496.56" x2="96.85" y2="495.32"/><line x1="99.9" y1="496.56" x2="102.85" y2="495.32"/><line x1="78.9" y1="501.46" x2="81.85" y2="500.22"/><line x1="84.9" y1="501.46" x2="87.85" y2="500.22"/><line x1="90.9" y1="501.46" x2="93.85" y2="500.22"/><line x1="49.35" y1="494.91" x2="53.69" y2="493.09"/><line x1="52.23" y1="495.94" x2="56.57" y2="494.12"/><line x1="55.11" y1="496.98" x2="59.45" y2="495.16"/><line x1="57.99" y1="498.01" x2="62.33" y2="496.19"/><line x1="60.87" y1="499.04" x2="65.21" y2="497.22"/><line x1="63.76" y1="500.08" x2="68.09" y2="498.26"/><line x1="66.64" y1="501.11" x2="70.97" y2="499.29"/><line x1="69.52" y1="502.14" x2="73.85" y2="500.32"/><line x1="48.26" y1="494.55" x2="52.59" y2="492.73"/><line x1="51.34" y1="495.68" x2="55.67" y2="493.86"/><line x1="54.41" y1="496.82" x2="58.74" y2="495"/><line x1="57.49" y1="497.95" x2="61.82" y2="496.13"/><line x1="60.56" y1="499.08" x2="64.89" y2="497.26"/><line x1="63.64" y1="500.21" x2="67.97" y2="498.39"/><line x1="44.41" y1="491.32" x2="48.75" y2="489.5"/><line x1="47.24" y1="492.24" x2="51.57" y2="490.42"/><line x1="50.06" y1="493.16" x2="54.39" y2="491.34"/><line x1="52.88" y1="494.09" x2="57.22" y2="492.27"/><line x1="55.71" y1="495.01" x2="60.04" y2="493.19"/><line x1="58.53" y1="495.93" x2="62.86" y2="494.11"/><line x1="61.35" y1="496.86" x2="65.69" y2="495.04"/><line x1="44.28" y1="487.59" x2="48.61" y2="485.77"/><line x1="47.44" y1="488.31" x2="51.78" y2="486.49"/><line x1="50.61" y1="489.03" x2="54.94" y2="487.21"/><line x1="53.77" y1="489.76" x2="58.11" y2="487.94"/><line x1="56.94" y1="490.48" x2="61.27" y2="488.66"/><line x1="41.78" y1="482.21" x2="46.12" y2="480.39"/><line x1="44.83" y1="482.46" x2="49.16" y2="480.64"/><line x1="47.87" y1="482.71" x2="52.21" y2="480.89"/><line x1="50.92" y1="482.96" x2="55.25" y2="481.14"/><line x1="53.96" y1="483.22" x2="58.3" y2="481.4"/><line x1="57.01" y1="483.47" x2="61.34" y2="481.65"/><line x1="43.31" y1="476.75" x2="47.64" y2="474.93"/><line x1="46.35" y1="476.5" x2="50.68" y2="474.68"/><line x1="49.4" y1="476.24" x2="53.73" y2="474.42"/><line x1="52.44" y1="475.99" x2="56.78" y2="474.17"/><line x1="55.49" y1="475.74" x2="59.82" y2="473.92"/><line x1="42.7" y1="471.86" x2="47.03" y2="470.04"/><line x1="45.86" y1="471.13" x2="50.19" y2="469.31"/><line x1="49.03" y1="470.41" x2="53.36" y2="468.59"/><line x1="52.19" y1="469.69" x2="56.52" y2="467.87"/><line x1="55.35" y1="468.96" x2="59.69" y2="467.14"/><line x1="58.52" y1="468.24" x2="62.85" y2="466.42"/><line x1="45.82" y1="467.31" x2="50.16" y2="465.49"/><line x1="48.65" y1="466.38" x2="52.98" y2="464.56"/><line x1="51.47" y1="465.46" x2="55.8" y2="463.64"/><line x1="54.29" y1="464.54" x2="58.63" y2="462.72"/><line x1="57.12" y1="463.61" x2="61.45" y2="461.79"/><line x1="59.94" y1="462.69" x2="64.28" y2="460.87"/><line x1="46.72" y1="465.1" x2="51.06" y2="463.28"/><line x1="49.8" y1="463.97" x2="54.13" y2="462.15"/><line x1="52.87" y1="462.83" x2="57.21" y2="461.01"/><line x1="55.95" y1="461.7" x2="60.28" y2="459.88"/><line x1="59.02" y1="460.57" x2="63.36" y2="458.75"/><line x1="62.1" y1="459.44" x2="66.43" y2="457.62"/><line x1="65.17" y1="458.3" x2="69.51" y2="456.48"/><line x1="50.79" y1="463.66" x2="55.13" y2="461.84"/><line x1="53.67" y1="462.62" x2="58.01" y2="460.8"/><line x1="56.55" y1="461.59" x2="60.89" y2="459.77"/><line x1="59.43" y1="460.56" x2="63.77" y2="458.74"/><line x1="62.32" y1="459.52" x2="66.65" y2="457.7"/><line x1="65.2" y1="458.49" x2="69.53" y2="456.67"/><line x1="68.08" y1="457.46" x2="72.41" y2="455.64"/><line x1="69.16" y1="478.28" x2="73.5" y2="476.46"/><line x1="68.68" y1="482.51" x2="73.01" y2="480.69"/><line x1="67.3" y1="486.09" x2="71.64" y2="484.27"/><line x1="65.25" y1="488.48" x2="69.58" y2="486.66"/><line x1="62.82" y1="489.32" x2="67.15" y2="487.5"/><line x1="60.39" y1="488.48" x2="64.72" y2="486.66"/><line x1="58.33" y1="486.09" x2="62.66" y2="484.27"/><line x1="56.96" y1="482.51" x2="61.29" y2="480.69"/><line x1="56.47" y1="478.28" x2="60.81" y2="476.46"/><line x1="56.96" y1="474.06" x2="61.29" y2="472.24"/><line x1="58.33" y1="470.47" x2="62.66" y2="468.65"/><line x1="60.39" y1="468.08" x2="64.72" y2="466.26"/><line x1="62.82" y1="467.24" x2="67.15" y2="465.42"/><line x1="65.25" y1="468.08" x2="69.58" y2="466.26"/><line x1="67.3" y1="470.47" x2="71.64" y2="468.65"/><line x1="68.68" y1="474.06" x2="73.01" y2="472.24"/></g>
<text x="52.6" y="508.8" font-size="11" font-family="Liberation Sans,Arial,sans-serif" fill="#1d1b48" textLength="16.3" lengthAdjust="spacingAndGlyphs">FM</text>
<ellipse cx="336" cy="93.8" rx="24.2" ry="25.5" fill="url(#r1side)"/>
<ellipse cx="336.8" cy="91" rx="23.4" ry="23.6" fill="url(#r1top)"/>
<path d="M318 78 Q312 92 318 106 L321 104 Q316 92 321 80z" fill="#78b8a0"/>
<ellipse cx="334.3" cy="91.7" rx="10.7" ry="10.5" fill="#fff"/>
<path d="M324 86 Q325 97 333 102 L331 103 Q322 97 323 86z" fill="#86c4a8"/>
<circle cx="329.4" cy="70" r="1.9" fill="#d81818"/><circle cx="329.4" cy="73" r="1.9" fill="#d81818"/><circle cx="329.4" cy="76" r="1.9" fill="#d81818"/><circle cx="329.4" cy="79" r="1.9" fill="#d81818"/><circle cx="340.5" cy="69" r="1.9" fill="#d81818"/><circle cx="339.47" cy="71.82" r="1.9" fill="#d81818"/><circle cx="338.45" cy="74.64" r="1.9" fill="#d81818"/><circle cx="337.42" cy="77.46" r="1.9" fill="#d81818"/><circle cx="346" cy="78" r="1.9" fill="#d81818"/><circle cx="348.6" cy="79.5" r="1.9" fill="#d81818"/><circle cx="351.2" cy="81" r="1.9" fill="#d81818"/><circle cx="353.79" cy="82.5" r="1.9" fill="#d81818"/><circle cx="356.39" cy="84" r="1.9" fill="#d81818"/><circle cx="350" cy="88" r="1.9" fill="#d81818"/><circle cx="352.95" cy="88.52" r="1.9" fill="#d81818"/><circle cx="355.91" cy="89.04" r="1.9" fill="#d81818"/><circle cx="358.86" cy="89.56" r="1.9" fill="#d81818"/><circle cx="361.82" cy="90.08" r="1.9" fill="#d81818"/><circle cx="350" cy="98" r="1.9" fill="#d81818"/><circle cx="352.3" cy="96.07" r="1.9" fill="#d81818"/><circle cx="354.6" cy="94.14" r="1.9" fill="#d81818"/><circle cx="356.89" cy="92.21" r="1.9" fill="#d81818"/><circle cx="343.4" cy="106" r="1.9" fill="#d81818"/><circle cx="343.4" cy="109" r="1.9" fill="#d81818"/><circle cx="343.4" cy="112" r="1.9" fill="#d81818"/><circle cx="343.4" cy="115" r="1.9" fill="#d81818"/><circle cx="317" cy="75" r="1.9" fill="#d81818"/><circle cx="317.52" cy="77.95" r="1.9" fill="#d81818"/><circle cx="318.04" cy="80.91" r="1.9" fill="#d81818"/><circle cx="318.56" cy="83.86" r="1.9" fill="#d81818"/><circle cx="319.08" cy="86.82" r="1.9" fill="#d81818"/><circle cx="319.6" cy="89.77" r="1.9" fill="#d81818"/><circle cx="320" cy="80" r="1.9" fill="#d81818"/><circle cx="321.03" cy="82.82" r="1.9" fill="#d81818"/><circle cx="322.05" cy="85.64" r="1.9" fill="#d81818"/><circle cx="323.08" cy="88.46" r="1.9" fill="#d81818"/><circle cx="324.1" cy="91.28" r="1.9" fill="#d81818"/>
<line x1="317.8" y1="101" x2="311.03" y2="104.62" stroke="#dd1c1c" stroke-width="2.2"/><path d="M307.5 106.5L309.8 102.32L312.25 106.91z" fill="#dd1c1c"/>
<line x1="330.5" y1="107" x2="326.35" y2="114.95" stroke="#dd1c1c" stroke-width="2.2"/><path d="M324.5 118.5L324.05 113.75L328.66 116.16z" fill="#dd1c1c"/>
<line x1="343.4" y1="106" x2="343.4" y2="114.5" stroke="#dd1c1c" stroke-width="2.0"/><path d="M343.4 118L341 114.5L345.8 114.5z" fill="#dd1c1c"/>
<ellipse cx="401" cy="95" rx="22.8" ry="23.2" fill="url(#r2o)"/>
<ellipse cx="400.5" cy="94" rx="17.5" ry="16" transform="rotate(-25 400.5 94)" fill="#d6a69c"/>
<ellipse cx="398.5" cy="91.2" rx="12" ry="9.6" transform="rotate(-28 398.5 91.2)" fill="#fff"/>
<polyline points="402.83,101.98 401.69,102.44 400.52,102.82 399.33,103.1 398.14,103.3 396.95,103.4 395.77,103.41 394.61,103.33 393.49,103.16 392.4,102.89 391.35,102.54 390.36,102.09 389.44,101.57 388.58,100.97 387.8,100.29 387.1,99.54 386.48,98.73 385.96,97.87 385.54,96.95 385.21,95.99 384.98,94.99 384.86,93.96 384.84,92.91 384.92,91.85 385.11,90.79 385.39,89.72 385.78,88.67 386.27,87.64 386.85,86.63 387.51,85.66 388.27,84.73 389.09,83.86 389.99,83.03 390.96,82.27 391.98,81.58 393.05,80.96 394.17,80.42 395.31,79.96 396.48,79.58 397.67,79.3 398.86,79.1" fill="none" stroke="#7cc4aa" stroke-width="3.4"/>
<circle cx="404.96" cy="81.28" r="1.6" fill="#c81828"/><circle cx="409.7" cy="83.84" r="1.6" fill="#c81828"/><circle cx="413.03" cy="87.8" r="1.6" fill="#c81828"/><circle cx="414.46" cy="92.59" r="1.6" fill="#c81828"/><circle cx="413.79" cy="97.52" r="1.6" fill="#c81828"/><circle cx="411.11" cy="101.86" r="1.6" fill="#c81828"/><circle cx="406.81" cy="104.98" r="1.6" fill="#c81828"/><circle cx="401.52" cy="106.43" r="1.6" fill="#c81828"/><circle cx="396" cy="106" r="1.6" fill="#c81828"/><circle cx="391.07" cy="103.74" r="1.6" fill="#c81828"/>
<line x1="383" y1="77" x2="379.25" y2="74.81" stroke="#dd1c1c" stroke-width="1.3"/><path d="M377 73.5L380.15 73.26L378.34 76.36z" fill="#dd1c1c"/><line x1="380.5" y1="89.5" x2="377.12" y2="88.64" stroke="#dd1c1c" stroke-width="1.5"/><path d="M374.6 88L377.59 86.8L376.65 90.48z" fill="#dd1c1c"/>
<circle cx="390.5" cy="68.5" r="1.2" fill="#222"/>
<ellipse cx="467.6" cy="93" rx="25.6" ry="23" fill="#72b8a0"/>
<ellipse cx="468.5" cy="92" rx="23" ry="20.5" fill="#e8a474"/>
<path d="M468.5 92 L480 73 A23 20.5 0 0 1 477 111 Z" fill="#5aa8cc"/>
<path d="M468.5 92 L447 84 A23 20.5 0 0 1 478 73 Z" fill="#8a5838"/>
<path d="M468.5 92 L472 72 A23 20.5 0 0 1 480 73 Z" fill="#2a2a2a"/>
<path d="M444 100 A23.5 21 0 0 1 470 70.5 L470 73.5 A20.5 18.5 0 0 0 447 99Z" fill="#7cc0a6"/>
<ellipse cx="466.4" cy="89.5" rx="9.4" ry="8.75" fill="#fff"/>
<circle cx="436" cy="97" r="1.85" fill="#d41818"/><circle cx="438.82" cy="95.97" r="1.85" fill="#d41818"/><circle cx="441.64" cy="94.95" r="1.85" fill="#d41818"/><circle cx="444.46" cy="93.92" r="1.85" fill="#d41818"/><circle cx="452" cy="76" r="1.85" fill="#d41818"/><circle cx="452" cy="79" r="1.85" fill="#d41818"/><circle cx="452" cy="82" r="1.85" fill="#d41818"/><circle cx="452" cy="85" r="1.85" fill="#d41818"/><circle cx="452" cy="88" r="1.85" fill="#d41818"/><circle cx="458" cy="73" r="1.85" fill="#d41818"/><circle cx="458" cy="76" r="1.85" fill="#d41818"/><circle cx="458" cy="79" r="1.85" fill="#d41818"/><circle cx="458" cy="82" r="1.85" fill="#d41818"/><circle cx="458" cy="85" r="1.85" fill="#d41818"/><circle cx="447" cy="100" r="1.85" fill="#d41818"/><circle cx="449.3" cy="101.93" r="1.85" fill="#d41818"/><circle cx="451.6" cy="103.86" r="1.85" fill="#d41818"/><circle cx="453.89" cy="105.79" r="1.85" fill="#d41818"/><circle cx="462" cy="99" r="1.85" fill="#d41818"/><circle cx="462.52" cy="101.95" r="1.85" fill="#d41818"/><circle cx="463.04" cy="104.91" r="1.85" fill="#d41818"/><circle cx="463.56" cy="107.86" r="1.85" fill="#d41818"/><circle cx="464.08" cy="110.82" r="1.85" fill="#d41818"/><circle cx="443" cy="108" r="1.85" fill="#d41818"/><circle cx="445.6" cy="106.5" r="1.85" fill="#d41818"/><circle cx="448.2" cy="105" r="1.85" fill="#d41818"/>
<circle cx="484" cy="75" r="1.1" fill="#333"/><circle cx="492.5" cy="91" r="1.2" fill="#b81818"/><circle cx="487" cy="107.5" r="1.2" fill="#b81818"/>
<g clip-path="url(#sclip)">
<rect x="290" y="175" width="205" height="135" fill="url(#sstripe)"/>
<ellipse cx="470" cy="242" rx="22" ry="26" fill="url(#dipR)" opacity="0.7"/>
<ellipse cx="380" cy="280" rx="16" ry="26" fill="url(#dipR)" opacity="0.75"/>
<ellipse cx="467" cy="184" rx="19" ry="9" fill="url(#crat)"/>
<ellipse cx="460" cy="215" rx="34" ry="26" fill="url(#shadeR)"/>
<ellipse cx="397.5" cy="205.7" rx="37" ry="18" fill="url(#halo1)"/>
<ellipse cx="400.7" cy="209.5" rx="22.5" ry="10" fill="url(#yg1)"/>
<ellipse cx="322" cy="231" rx="33" ry="19" fill="url(#halo1)"/>
<path d="M302 228 Q318 221 336 226 Q347 232 349 243 Q340 252 333 262 Q328 268 322 263 Q313 250 302 228Z" fill="url(#yg2)"/>
<path d="M341 236 Q349 240 349 245 Q338 256 331 266 L327 265 Q336 252 344 243Z" fill="#6e8c24" opacity="0.8"/>
<rect x="290" y="175" width="205" height="135" fill="url(#sbot)"/>
<rect x="290" y="175" width="205" height="135" fill="url(#sdots)"/>
</g>
<path d="M296 216.6l1.1 -3.2l1.1 3.2zM299.4 215.49l1.1 -3.2l1.1 3.2zM302.8 214.37l1.1 -3.2l1.1 3.2zM306.2 213.25l1.1 -3.2l1.1 3.2zM309.6 212.13l1.1 -3.2l1.1 3.2zM313 211.01l1.1 -3.2l1.1 3.2zM316.4 209.89l1.1 -3.2l1.1 3.2zM319.8 208.77l1.1 -3.2l1.1 3.2zM323.2 207.66l1.1 -3.2l1.1 3.2zM326.6 206.54l1.1 -3.2l1.1 3.2zM330 205.42l1.1 -3.2l1.1 3.2zM333.4 204.3l1.1 -3.2l1.1 3.2zM336.8 203.18l1.1 -3.2l1.1 3.2zM340.2 202.06l1.1 -3.2l1.1 3.2zM343.6 200.94l1.1 -3.2l1.1 3.2zM347 199.82l1.1 -3.2l1.1 3.2zM350.4 198.71l1.1 -3.2l1.1 3.2zM353.8 197.59l1.1 -3.2l1.1 3.2zM357.2 196.47l1.1 -3.2l1.1 3.2zM360.6 195.35l1.1 -3.2l1.1 3.2zM364 194.23l1.1 -3.2l1.1 3.2zM367.4 193.11l1.1 -3.2l1.1 3.2zM370.8 191.99l1.1 -3.2l1.1 3.2zM374.2 190.88l1.1 -3.2l1.1 3.2zM377.6 189.76l1.1 -3.2l1.1 3.2zM381 188.64l1.1 -3.2l1.1 3.2zM384.4 187.52l1.1 -3.2l1.1 3.2zM387.8 186.4l1.1 -3.2l1.1 3.2zM391.2 185.28l1.1 -3.2l1.1 3.2zM394.6 184.16l1.1 -3.2l1.1 3.2zM398 183.05l1.1 -3.2l1.1 3.2zM401.4 181.93l1.1 -3.2l1.1 3.2zM404.8 180.81l1.1 -3.2l1.1 3.2zM408.2 180.85l1.1 -3.2l1.1 3.2zM411.6 180.79l1.1 -3.2l1.1 3.2zM415 180.74l1.1 -3.2l1.1 3.2zM418.4 180.69l1.1 -3.2l1.1 3.2zM421.8 180.63l1.1 -3.2l1.1 3.2zM425.2 180.58l1.1 -3.2l1.1 3.2zM428.6 180.52l1.1 -3.2l1.1 3.2zM432 180.47l1.1 -3.2l1.1 3.2zM435.4 180.41l1.1 -3.2l1.1 3.2zM438.8 180.36l1.1 -3.2l1.1 3.2zM442.2 180.3l1.1 -3.2l1.1 3.2zM445.6 180.25l1.1 -3.2l1.1 3.2zM449 180.2l1.1 -3.2l1.1 3.2z" fill="#d45a34"/>
<text x="318.3" y="281.5" font-size="10" font-weight="bold" font-family="Liberation Sans,Arial,sans-serif" fill="#3a9a50" textLength="16.5" lengthAdjust="spacingAndGlyphs">"1"</text>
<text x="359.4" y="310.2" font-size="10" font-weight="bold" font-family="Liberation Sans,Arial,sans-serif" fill="#f08a40" textLength="14.6" lengthAdjust="spacingAndGlyphs">"0"</text>
<text x="477" y="272.6" font-size="10" font-weight="bold" font-family="Liberation Sans,Arial,sans-serif" fill="#f08a40" textLength="14.8" lengthAdjust="spacingAndGlyphs">"0"</text>
<path d="M325 264l2 2.5l2-2.5z M386.5 305l2 2.5l2-2.5z M463.5 266l2 2.5l2-2.5z" fill="#3aa070"/>
<circle cx="462" cy="325.5" r="38.0" fill="url(#ballg)"/>
<g clip-path="url(#ballclip)">
<ellipse cx="464" cy="293" rx="31" ry="16" fill="#2c8e16"/>
<ellipse cx="470" cy="296" rx="16" ry="8" fill="#48b828"/>
<ellipse cx="487" cy="306" rx="17" ry="8" transform="rotate(48 487 306)" fill="#2e9418"/>
<ellipse cx="462" cy="291" rx="9" ry="5" fill="#d060b0"/>
<path d="M457 297 L458.7 295.61 L460.3 294.83 L462 294.5 L463.85 294.5 L465.81 294.94 L468 296 L470.44 297.81 L473.11 300.24 L476 303 L479.26 306.11 L482.74 309.56 L486 313 L488.93 316.3 L491.63 319.59 L494 323 L496.15 326.56 L497.96 330.22 L499 334 L499.04 338 L498.3 342.11 L497 346 L495.15 349.63 L492.74 353.04 L490 356 L486.89 358.44 L483.44 360.44 L480 362 L476.56 363.22 L473.11 364 L470 364 L467.37 362.59 L465.07 360.41 L463 359 L461.22 359.15 L459.67 360.07 L458 361 L456.04 361.96 L453.96 362.93 L452 363 L450.19 361.78 L448.48 359.67 L447 357 L445.76 353.74 L444.74 349.93 L444 346 L443.54 342.22 L443.35 338.33 L443.5 334 L444.02 328.85 L444.87 323.26 L446 318 L447.44 313.26 L449.17 308.85 L451 305 L452.96 301.76 L455.04 299.07Z" fill="#561858"/>
</g>
<path d="M496.48 324.47L507 325.5L496.48 326.53zM496.48 326.72L504.41 328.28L496.34 328.79zM496.32 328.98L506.62 331.37L496.05 331.03zM496.02 331.21L503.68 333.79L495.62 333.24zM495.58 333.43L505.47 337.15L495.04 335.42zM494.99 335.6L502.24 339.16L494.32 337.56zM494.26 337.74L503.57 342.72L493.46 339.65zM493.39 339.82L500.12 344.3L492.47 341.68zM492.38 341.85L500.97 348L491.35 343.64zM491.25 343.8L497.34 349.11L490.1 345.52zM489.99 345.67L497.7 352.89L488.73 347.31zM488.61 347.46L493.95 353.52L487.24 349.02zM487.12 349.15L493.82 357.32L485.65 350.62zM485.52 350.74L490.02 357.45L483.96 352.11zM483.81 352.23L489.39 361.2L482.17 353.49zM482.02 353.6L485.61 360.84L480.3 354.75zM480.14 354.85L484.5 364.47L478.35 355.88zM478.18 355.97L480.8 363.62L476.32 356.89zM476.15 356.96L479.22 367.07L474.24 357.76zM474.06 357.82L475.66 365.74L472.1 358.49zM471.92 358.54L473.65 368.97L469.93 359.08zM469.74 359.12L470.29 367.18L467.71 359.52zM467.53 359.55L467.87 370.12L465.48 359.82zM465.29 359.84L464.78 367.91L463.22 359.98zM463.03 359.98L462 370.5L460.97 359.98zM460.78 359.98L459.22 367.91L458.71 359.84zM458.52 359.82L456.13 370.12L456.47 359.55zM456.29 359.52L453.71 367.18L454.26 359.12zM454.07 359.08L450.35 368.97L452.08 358.54zM451.9 358.49L448.34 365.74L449.94 357.82zM449.76 357.76L444.78 367.07L447.85 356.96zM447.68 356.89L443.2 363.62L445.82 355.97zM445.65 355.88L439.5 364.47L443.86 354.85zM443.7 354.75L438.39 360.84L441.98 353.6zM441.83 353.49L434.61 361.2L440.19 352.23zM440.04 352.11L433.98 357.45L438.48 350.74zM438.35 350.62L430.18 357.32L436.88 349.15zM436.76 349.02L430.05 353.52L435.39 347.46zM435.27 347.31L426.3 352.89L434.01 345.67zM433.9 345.52L426.66 349.11L432.75 343.8zM432.65 343.64L423.03 348L431.62 341.85zM431.53 341.68L423.88 344.3L430.61 339.82zM430.54 339.65L420.43 342.72L429.74 337.74zM429.68 337.56L421.76 339.16L429.01 335.6zM428.96 335.42L418.53 337.15L428.42 333.43zM428.38 333.24L420.32 333.79L427.98 331.21zM427.95 331.03L417.38 331.37L427.68 328.98zM427.66 328.79L419.59 328.28L427.52 326.72zM427.52 326.53L417 325.5L427.52 324.47zM427.52 324.28L419.59 322.72L427.66 322.21zM427.68 322.02L417.38 319.63L427.95 319.97zM427.98 319.79L420.32 317.21L428.38 317.76zM428.42 317.57L418.53 313.85L428.96 315.58zM429.01 315.4L421.76 311.84L429.68 313.44zM429.74 313.26L420.43 308.28L430.54 311.35zM430.61 311.18L423.88 306.7L431.53 309.32zM431.62 309.15L423.03 303L432.65 307.36zM432.75 307.2L426.66 301.89L433.9 305.48zM434.01 305.33L426.3 298.11L435.27 303.69zM435.39 303.54L430.05 297.48L436.76 301.98zM436.88 301.85L430.18 293.68L438.35 300.38zM438.48 300.26L433.98 293.55L440.04 298.89zM440.19 298.77L434.61 289.8L441.83 297.51zM441.98 297.4L438.39 290.16L443.7 296.25zM443.86 296.15L439.5 286.53L445.65 295.12zM445.82 295.03L443.2 287.38L447.68 294.11zM447.85 294.04L444.78 283.93L449.76 293.24zM449.94 293.18L448.34 285.26L451.9 292.51zM452.08 292.46L450.35 282.03L454.07 291.92zM454.26 291.88L453.71 283.82L456.29 291.48zM456.47 291.45L456.13 280.88L458.52 291.18zM458.71 291.16L459.22 283.09L460.78 291.02zM460.97 291.02L462 280.5L463.03 291.02zM463.22 291.02L464.78 283.09L465.29 291.16zM465.48 291.18L467.87 280.88L467.53 291.45zM467.71 291.48L470.29 283.82L469.74 291.88zM469.93 291.92L473.65 282.03L471.92 292.46zM472.1 292.51L475.66 285.26L474.06 293.18zM474.24 293.24L479.22 283.93L476.15 294.04zM476.32 294.11L480.8 287.38L478.18 295.03zM478.35 295.12L484.5 286.53L480.14 296.15zM480.3 296.25L485.61 290.16L482.02 297.4zM482.17 297.51L489.39 289.8L483.81 298.77zM483.96 298.89L490.02 293.55L485.52 300.26zM485.65 300.38L493.82 293.68L487.12 301.85zM487.24 301.98L493.95 297.48L488.61 303.54zM488.73 303.69L497.7 298.11L489.99 305.33zM490.1 305.48L497.34 301.89L491.25 307.2zM491.35 307.36L500.97 303L492.38 309.15zM492.47 309.32L500.12 306.7L493.39 311.18zM493.46 311.35L503.57 308.28L494.26 313.26zM494.32 313.44L502.24 311.84L494.99 315.4zM495.04 315.58L505.47 313.85L495.58 317.57zM495.62 317.76L503.68 317.21L496.02 319.79zM496.05 319.97L506.62 319.63L496.32 322.02zM496.34 322.21L504.41 322.72L496.48 324.28z" fill="url(#fring)"/>
<path d="M458.36 360.86l-0.48 4.71M461.36 360.95l-0.09 4.73M464.36 360.91l0.31 4.72M446.82 357.52l-2.02 4.27M462.97 359.2l0.13 4.49M440.85 353.79l-2.82 3.77M443.73 354.69l-2.44 3.89M435.21 349.11l-3.57 3.15M437.78 350.28l-3.23 3.3M440.72 351.32l-2.84 3.44M443.97 352.23l-2.4 3.56M432.47 345.01l-3.94 2.6M434.99 346.3l-3.6 2.77M437.9 347.47l-3.21 2.93M441.18 348.5l-2.78 3.07M444.76 349.37l-2.3 3.18M430.18 340.52l-4.24 2M432.56 341.92l-3.92 2.19M435.39 343.21l-3.55 2.36M438.61 344.35l-3.12 2.51M442.18 345.34l-2.64 2.65M428.41 335.74l-4.48 1.37M430.61 337.23l-4.19 1.56M433.28 338.61l-3.83 1.75M436.38 339.85l-3.42 1.91M439.86 340.95l-2.95 2.06M443.67 341.87l-2.44 2.18M427.23 330.76l-4.64 0.7M429.2 332.31l-4.37 0.91M431.66 333.76l-4.05 1.1M434.57 335.08l-3.66 1.28M437.9 336.26l-3.21 1.43M441.58 337.28l-2.72 1.57M426.7 325.69l-4.71 0.02M428.41 327.27l-4.48 0.24M430.61 328.75l-4.19 0.43M433.28 330.13l-3.83 0.62M436.38 331.38l-3.42 0.78M439.86 332.47l-2.95 0.93M496.63 326.37l4.62 0.12M426.85 320.62l-4.69 -0.65M428.26 322.19l-4.5 -0.44M430.18 323.7l-4.24 -0.24M432.56 325.1l-3.92 -0.05M435.39 326.38l-3.55 0.12M438.61 327.53l-3.12 0.27M442.18 328.52l-2.64 0.4M494.98 322.85l4.4 -0.35M496.61 321.3l4.61 -0.56M427.69 315.65l-4.57 -1.31M428.8 317.2l-4.43 -1.11M430.4 318.69l-4.21 -0.91M432.47 320.09l-3.94 -0.72M434.99 321.38l-3.6 -0.55M437.9 322.55l-3.21 -0.39M441.18 323.58l-2.78 -0.26M444.76 324.45l-2.3 -0.14M492.77 319.3l4.1 -0.83M494.57 317.85l4.34 -1.02M495.89 316.32l4.52 -1.22M430.02 312.39l-4.26 -1.75M431.3 313.82l-4.09 -1.56M433.04 315.19l-3.86 -1.37M435.21 316.47l-3.57 -1.2M437.78 317.64l-3.23 -1.05M440.72 318.68l-2.84 -0.91M443.97 319.58l-2.4 -0.79M490.08 315.75l3.74 -1.3M492.01 314.42l4 -1.48M493.49 313.01l4.2 -1.67M494.5 311.54l4.33 -1.86M431.9 307.85l-4.01 -2.35M432.87 309.21l-3.88 -2.17M434.27 310.51l-3.7 -2M436.09 311.74l-3.45 -1.83M438.3 312.88l-3.16 -1.68M440.85 313.9l-2.82 -1.55M443.73 314.81l-2.44 -1.43M446.87 315.57l-2.02 -1.32M487.01 312.24l3.33 -1.77M489 311.05l3.6 -1.93M490.58 309.77l3.81 -2.1M491.74 308.44l3.97 -2.27M492.46 307.06l4.06 -2.46M434.4 303.69l-3.68 -2.91M435.08 304.94l-3.59 -2.74M436.16 306.15l-3.45 -2.58M437.63 307.3l-3.25 -2.43M439.45 308.37l-3.01 -2.28M441.62 309.35l-2.72 -2.15M444.09 310.23l-2.39 -2.04M446.82 310.99l-2.02 -1.93M483.66 308.8l2.89 -2.23M485.63 307.77l3.15 -2.36M487.26 306.65l3.37 -2.51M488.5 305.46l3.53 -2.67M489.36 304.23l3.65 -2.84M437.47 299.98l-3.27 -3.4M437.89 301.1l-3.21 -3.25M438.67 302.18l-3.11 -3.11M439.79 303.23l-2.96 -2.97M441.25 304.21l-2.77 -2.84M443.02 305.12l-2.53 -2.72M445.06 305.94l-2.26 -2.61M447.37 306.67l-1.95 -2.51M449.89 307.28l-1.62 -2.43M480.14 305.49l2.42 -2.67M482.03 304.61l2.67 -2.79M483.62 303.66l2.88 -2.91M484.89 302.64l3.05 -3.05M485.82 301.57l3.18 -3.19M486.39 300.46l3.25 -3.34M441.03 296.81l-2.8 -3.83M441.23 297.77l-2.77 -3.7M441.74 298.71l-2.7 -3.57M442.56 299.62l-2.59 -3.45M443.66 300.48l-2.45 -3.34M445.04 301.29l-2.26 -3.23M446.66 302.03l-2.04 -3.13M448.52 302.69l-1.8 -3.04M450.58 303.26l-1.52 -2.96M476.57 302.33l1.94 -3.09M478.3 301.62l2.17 -3.18M479.78 300.84l2.37 -3.29M481.01 299.99l2.53 -3.4M481.94 299.1l2.66 -3.52M482.58 298.17l2.74 -3.64M482.92 297.22l2.79 -3.77M444.99 294.24l-2.27 -4.17M445.03 295.02l-2.26 -4.06M445.32 295.79l-2.22 -3.96M445.86 296.54l-2.15 -3.86M446.63 297.27l-2.05 -3.76M447.64 297.95l-1.91 -3.67M448.86 298.58l-1.75 -3.59M450.28 299.15l-1.56 -3.51M451.87 299.65l-1.35 -3.45M453.62 300.07l-1.12 -3.39M473.06 299.37l1.47 -3.48M474.55 298.83l1.67 -3.56M475.86 298.22l1.85 -3.64M476.96 297.56l1.99 -3.72M477.84 296.86l2.11 -3.82M478.48 296.12l2.2 -3.92M478.88 295.35l2.25 -4.02M479.02 294.58l2.27 -4.12M449.24 292.33l-1.7 -4.42M449.18 292.91l-1.71 -4.35M449.3 293.5l-1.69 -4.27M449.61 294.07l-1.65 -4.19M450.11 294.63l-1.59 -4.12M450.78 295.16l-1.5 -4.05M451.62 295.65l-1.38 -3.98M452.62 296.1l-1.25 -3.92M453.76 296.51l-1.1 -3.87M455.01 296.86l-0.93 -3.82M456.38 297.15l-0.75 -3.78M469.72 296.66l1.03 -3.84M470.91 296.28l1.19 -3.9M471.97 295.85l1.33 -3.95M472.88 295.37l1.45 -4.02M473.62 294.86l1.55 -4.09M474.2 294.31l1.63 -4.16M474.59 293.74l1.68 -4.23M474.79 293.16l1.71 -4.31M474.81 292.58l1.71 -4.39M453.91 290.72l-1.08 -4.64M453.68 291.1l-1.11 -4.59M453.73 292.25l-1.1 -4.43M454 292.62l-1.07 -4.38M455.49 293.63l-0.87 -4.25M456.19 293.91l-0.77 -4.21M458.77 294.54l-0.43 -4.13M459.75 294.67l-0.3 -4.11M463.83 294.71l0.24 -4.11M466.66 294.26l0.62 -4.17M467.48 294.02l0.73 -4.2M469.41 293.13l0.99 -4.32M469.85 292.78l1.05 -4.36M470.44 291.65l1.12 -4.51M470.38 291.26l1.12 -4.56M459.38 289.83l-0.35 -4.76M459.04 289.96l-0.39 -4.74M458.32 290.42l-0.49 -4.68M458.18 290.59l-0.51 -4.65M458.12 291.13l-0.52 -4.58M458.21 291.3l-0.5 -4.56M458.83 291.78l-0.42 -4.5M459.13 291.92l-0.38 -4.48M460.28 292.24l-0.23 -4.43M460.72 292.31l-0.17 -4.43M462.14 292.39l0.02 -4.41M462.61 292.37l0.08 -4.42M463.96 292.19l0.26 -4.44M464.36 292.09l0.31 -4.45M465.32 291.7l0.44 -4.51M465.55 291.54l0.47 -4.53M465.91 291.02l0.52 -4.6M465.91 290.84l0.52 -4.62M465.58 290.32l0.48 -4.69M465.36 290.16l0.45 -4.71" stroke="#eca030" stroke-width="1.1" stroke-linecap="round" fill="none"/>
<path d="M455.43 360.62l0.04 1.7M467.32 360.74l0.51 1.71M449.78 358.15l-0.19 1.61M452.93 358.64l-0.06 1.63M456.21 358.98l0.07 1.64M459.57 359.17l0.2 1.65M466.36 359.08l0.47 1.64M469.68 358.8l0.61 1.63M472.89 358.37l0.74 1.61M475.93 357.81l0.86 1.59M446.87 355.46l-0.31 1.5M450.24 356.07l-0.17 1.52M453.79 356.53l-0.03 1.54M457.46 356.82l0.12 1.55M461.2 356.95l0.27 1.56M464.94 356.9l0.42 1.56M468.65 356.68l0.57 1.55M472.25 356.29l0.71 1.53M475.71 355.74l0.85 1.51M478.95 355.04l0.98 1.48M481.95 354.19l1.1 1.45M447.49 352.97l-0.28 1.4M451.22 353.55l-0.13 1.42M455.12 353.96l0.02 1.44M459.11 354.18l0.18 1.45M463.16 354.22l0.35 1.45M467.18 354.07l0.51 1.44M471.13 353.75l0.67 1.43M474.94 353.24l0.82 1.41M478.56 352.56l0.96 1.38M481.93 351.73l1.1 1.35M485 350.75l1.22 1.31M487.73 349.63l1.33 1.27M448.6 350.08l-0.24 1.28M452.64 350.6l-0.07 1.3M456.83 350.93l0.09 1.32M461.08 351.07l0.26 1.32M465.36 351.01l0.43 1.32M469.58 350.76l0.6 1.31M473.69 350.32l0.77 1.29M477.62 349.7l0.92 1.27M481.32 348.9l1.07 1.24M484.74 347.93l1.21 1.2M487.81 346.82l1.33 1.15M490.5 345.58l1.44 1.1M446.05 346.16l-0.34 1.13M450.15 346.8l-0.17 1.15M454.43 347.24l-0 1.17M458.83 347.49l0.17 1.18M463.27 347.53l0.35 1.18M467.69 347.37l0.53 1.17M472.03 347.01l0.7 1.16M476.22 346.46l0.87 1.14M480.19 345.72l1.03 1.11M483.9 344.8l1.18 1.07M487.28 343.72l1.31 1.03M490.28 342.49l1.43 0.98M492.86 341.13l1.53 0.93M447.76 342.62l-0.27 0.98M452.05 343.17l-0.1 1.01M456.5 343.53l0.08 1.02M461.03 343.68l0.26 1.03M465.57 343.62l0.44 1.02M470.06 343.35l0.62 1.01M474.42 342.88l0.8 1M478.61 342.22l0.96 0.97M482.54 341.36l1.12 0.93M486.17 340.34l1.27 0.89M489.44 339.16l1.4 0.85M492.3 337.83l1.51 0.79M494.71 336.39l1.61 0.74M445.56 338.13l-0.36 0.81M449.79 338.78l-0.19 0.83M454.2 339.24l-0.01 0.85M458.73 339.49l0.17 0.86M463.31 339.54l0.35 0.86M467.87 339.37l0.53 0.85M472.34 339l0.71 0.84M476.65 338.43l0.89 0.82M480.75 337.67l1.05 0.79M484.57 336.72l1.2 0.75M488.05 335.61l1.34 0.7M491.14 334.34l1.47 0.65M493.8 332.94l1.57 0.6M495.99 331.44l1.66 0.54M443.67 333.4l-0.43 0.62M447.76 334.14l-0.27 0.65M452.05 334.7l-0.1 0.67M456.5 335.05l0.08 0.68M461.03 335.2l0.26 0.69M465.57 335.14l0.44 0.69M470.06 334.88l0.62 0.68M474.42 334.41l0.8 0.66M478.61 333.74l0.96 0.63M482.54 332.89l1.12 0.6M486.17 331.87l1.27 0.55M489.44 330.68l1.4 0.51M492.3 329.36l1.51 0.45M494.71 327.92l1.61 0.4M446.05 329.34l-0.34 0.45M450.15 329.98l-0.17 0.48M454.43 330.42l-0 0.5M458.83 330.67l0.17 0.51M463.27 330.71l0.35 0.51M467.69 330.55l0.53 0.5M472.03 330.19l0.7 0.49M476.22 329.64l0.87 0.47M480.19 328.89l1.03 0.44M483.9 327.97l1.18 0.4M487.28 326.89l1.31 0.36M490.28 325.67l1.43 0.31M492.86 324.31l1.53 0.25M448.6 325.16l-0.24 0.29M452.64 325.68l-0.07 0.31M456.83 326.01l0.09 0.32M461.08 326.15l0.26 0.33M465.36 326.09l0.43 0.32M469.58 325.84l0.6 0.31M473.69 325.4l0.77 0.3M477.62 324.78l0.92 0.27M481.32 323.98l1.07 0.24M484.74 323.01l1.21 0.2M487.81 321.9l1.33 0.16M490.5 320.66l1.44 0.11M447.49 320.32l-0.28 0.09M451.22 320.9l-0.13 0.12M455.12 321.31l0.02 0.13M459.11 321.53l0.18 0.14M463.16 321.57l0.35 0.14M467.18 321.43l0.51 0.14M471.13 321.1l0.67 0.12M474.94 320.59l0.82 0.1M478.56 319.92l0.96 0.08M481.93 319.08l1.1 0.04M485 318.1l1.22 0M487.73 316.98l1.33 -0.04M450.24 316.19l-0.17 -0.07M453.79 316.65l-0.03 -0.05M457.46 316.94l0.12 -0.04M461.2 317.06l0.27 -0.04M464.94 317.01l0.42 -0.04M468.65 316.79l0.57 -0.05M472.25 316.4l0.71 -0.06M475.71 315.86l0.85 -0.09M478.95 315.15l0.98 -0.11M481.95 314.31l1.1 -0.15M484.65 313.33l1.21 -0.19M449.78 311.62l-0.19 -0.26M452.93 312.11l-0.06 -0.24M456.21 312.45l0.07 -0.22M459.57 312.63l0.2 -0.21M462.97 312.67l0.34 -0.21M466.36 312.55l0.47 -0.22M469.68 312.27l0.61 -0.23M472.89 311.84l0.74 -0.25M475.93 311.28l0.86 -0.27M478.77 310.57l0.97 -0.3M481.36 309.74l1.07 -0.33M452.59 307.77l-0.08 -0.41M455.43 308.14l0.04 -0.39M458.36 308.37l0.15 -0.39M461.36 308.47l0.27 -0.38M464.36 308.43l0.39 -0.38M467.32 308.26l0.51 -0.39M470.21 307.95l0.63 -0.4M472.98 307.51l0.74 -0.42M475.58 306.94l0.84 -0.44M477.98 306.27l0.94 -0.47M452.81 303.74l-0.07 -0.57M455.17 304.1l0.03 -0.56M457.64 304.36l0.13 -0.55M460.17 304.5l0.23 -0.54M462.73 304.53l0.33 -0.54M465.28 304.43l0.43 -0.54M467.78 304.23l0.53 -0.55M470.19 303.91l0.63 -0.56M472.48 303.48l0.72 -0.58M474.62 302.95l0.8 -0.6M455.48 300.41l0.04 -0.7M457.45 300.67l0.12 -0.69M459.48 300.83l0.2 -0.69M461.55 300.9l0.28 -0.68M463.63 300.87l0.37 -0.69M465.68 300.75l0.45 -0.69M467.68 300.53l0.53 -0.7M469.6 300.23l0.6 -0.71M471.4 299.84l0.68 -0.73M457.82 297.37l0.13 -0.83M459.33 297.53l0.19 -0.82M460.88 297.61l0.26 -0.82M462.45 297.63l0.32 -0.81M464.01 297.57l0.38 -0.82M465.54 297.45l0.44 -0.82M467.01 297.25l0.5 -0.83M468.41 296.99l0.56 -0.84M462.81 294.77l0.33 -0.93" stroke="#e08a30" stroke-width="1.1" stroke-linecap="round" fill="none"/>
<path d="M321 432.5 L489.5 497.2 L489.5 524.4 L321 459.2Z" fill="#f2d6f0" stroke="#c89ad0" stroke-width="0.7"/>
<path d="M321 446 L489.5 511 L489.5 518 L321 453Z" fill="#e0b8b4" opacity="0.9"/>
<line x1="321" y1="447" x2="321" y2="425" stroke="#111" stroke-width="0.9"/><path d="M321 421.5l-1.8 4.2h3.6z" fill="#111"/>
<line x1="321" y1="447" x2="302.5" y2="449.2" stroke="#111" stroke-width="0.9"/><path d="M299 449.6l4.2 -2.2l0.4 3.8z" fill="#111"/>
<line x1="310" y1="447.8" x2="321" y2="446.5" stroke="#b09070" stroke-width="0.7"/>
<line x1="489.5" y1="511" x2="497.5" y2="514" stroke="#111" stroke-width="0.9"/><path d="M501 515.4l-4.4 0.6l1.3 -3.6z" fill="#111"/>
<path d="M489 510 L500.8 508.5 M489.5 512 L500.8 508.5" stroke="#b8a088" stroke-width="0.5" fill="none"/>
<text class="s" x="316.2" y="419.5" font-size="8.5" font-weight="bold">e<tspan font-size="5.5" dy="1.5">2</tspan></text>
<text class="s" x="288.6" y="452.5" font-size="8.5" font-weight="bold">e<tspan font-size="5.5" dy="1.5">3</tspan></text>
<text class="s" x="502.8" y="518" font-size="8.5" font-weight="bold">e<tspan font-size="5.5" dy="1.5">1</tspan></text>
<path d="M320.5 451 C322.5 437.5 328.5 439.5 340.5 439.5 C350.5 439.5 354.5 443.5 356.5 464.5 Z" fill="url(#ha0)"/>
<path d="M322.5 451.5 L355.5 464" stroke="#2a1840" stroke-width="1.6" opacity="0.8"/>
<ellipse cx="320.5" cy="453.5" rx="2.6" ry="5.6" fill="#1e3a78" transform="rotate(12 320.5 453.5)"/>
<line x1="335.5" y1="460.5" x2="345.5" y2="442.5" stroke="#e8b020" stroke-width="1.6"/>
<path d="M353.1 463.6 C355.1 450.1 361.1 452.1 373.1 452.1 C383.1 452.1 387.1 456.1 389.1 477.1 Z" fill="url(#ha1)"/>
<path d="M355.1 464.1 L388.1 476.6" stroke="#2a1840" stroke-width="1.6" opacity="0.8"/>
<ellipse cx="353.1" cy="466.1" rx="2.6" ry="5.6" fill="#1e3a78" transform="rotate(12 353.1 466.1)"/>
<line x1="368.1" y1="473.1" x2="378.1" y2="455.1" stroke="#c01818" stroke-width="1.6"/>
<path d="M385.7 476.2 C387.7 462.7 393.7 464.7 405.7 464.7 C415.7 464.7 419.7 468.7 421.7 489.7 Z" fill="url(#ha2)"/>
<path d="M387.7 476.7 L420.7 489.2" stroke="#2a1840" stroke-width="1.6" opacity="0.8"/>
<ellipse cx="385.7" cy="478.7" rx="2.6" ry="5.6" fill="#1e3a78" transform="rotate(12 385.7 478.7)"/>
<line x1="400.7" y1="485.7" x2="410.7" y2="467.7" stroke="#181818" stroke-width="1.6"/>
<path d="M418.3 488.8 C420.3 475.3 426.3 477.3 438.3 477.3 C448.3 477.3 452.3 481.3 454.3 502.3 Z" fill="url(#ha3)"/>
<path d="M420.3 489.3 L453.3 501.8" stroke="#2a1840" stroke-width="1.6" opacity="0.8"/>
<ellipse cx="418.3" cy="491.3" rx="2.6" ry="5.6" fill="#1e3a78" transform="rotate(12 418.3 491.3)"/>
<line x1="433.3" y1="498.3" x2="443.3" y2="480.3" stroke="#e0a020" stroke-width="1.6"/>
<path d="M450.9 501.4 C452.9 487.9 458.9 489.9 470.9 489.9 C480.9 489.9 484.9 493.9 486.9 514.9 Z" fill="url(#ha4)"/>
<path d="M452.9 501.9 L485.9 514.4" stroke="#2a1840" stroke-width="1.6" opacity="0.8"/>
<ellipse cx="450.9" cy="503.9" rx="2.6" ry="5.6" fill="#1e3a78" transform="rotate(12 450.9 503.9)"/>
<line x1="465.9" y1="510.9" x2="475.9" y2="492.9" stroke="#e08050" stroke-width="1.6"/>
<ellipse cx="484" cy="516" rx="2.6" ry="5.6" fill="#1e3a78" transform="rotate(12 484 516)"/>
<rect x="358.3" y="411.8" width="152.6" height="33.1" fill="#fff" stroke="#8a8a8a" stroke-width="1"/>
<line x1="362" y1="428.5" x2="509" y2="428.5" stroke="#7080d8" stroke-width="0.9"/>
<polyline points="363,442.01 364,442.56 365,442.79 366,442.69 367,442.27 368,441.53 369,440.49 370,439.18 371,437.62 372,435.86 373,433.92 374,431.87 375,429.73 376,427.57 377,425.44 378,423.38 379,421.44 380,419.66 381,418.09 382,416.77 383,415.71 384,414.96 385,414.52 386,414.4 387,414.62 388,415.15 389,416 390,417.14 391,418.54 392,420.17 393,422 394,423.99 395,426.08 396,428.22 397,430.38 398,432.49 399,434.52 400,436.4 401,438.11 402,439.6 403,440.83 404,441.79 405,442.43 406,442.76 407,442.76 408,442.43 409,441.79 410,440.83 411,439.6 412,438.11 413,436.4 414,434.52 415,432.49 416,430.38 417,428.22 418,426.08 419,423.99 420,422 421,420.17 422,418.54 423,417.14 424,416 425,415.15 426,414.62 427,414.4 428,414.52 429,414.96 430,415.71 431,416.77 432,418.09 433,419.66 434,421.44 435,423.38 436,425.44 437,427.57 438,429.73 439,431.87 440,433.92 441,435.86 442,437.62 443,439.18 444,440.49 445,441.53 446,442.27 447,442.69 448,442.79 449,442.56 450,442.01 451,441.15 452,440 453,438.58 454,436.94 455,435.1 456,433.11 457,431.02 458,428.87 459,426.72 460,424.6 461,422.59 462,420.71 463,419.01 464,417.53 465,416.31 466,415.38 467,414.74 468,414.43 469,414.45 470,414.79 471,415.46 472,416.42 473,417.67 474,419.17 475,420.89 476,422.78 477,424.81 478,426.93 479,429.09 480,431.23 481,433.32 482,435.29 483,437.11 484,438.74 485,440.13 486,441.25 487,442.08 488,442.6 489,442.8 490,442.67 491,442.21 492,441.44 493,440.37 494,439.03 495,437.45 496,435.67 497,433.72 498,431.65 499,429.52 500,427.36 501,425.23 502,423.18 503,421.25 504,419.5 505,417.95 506,416.65 507,415.62 508,414.9" fill="none" stroke="#9a9a9a" stroke-width="0.8"/>
<line x1="366" y1="428.5" x2="366" y2="439" stroke="#5cc4e0" stroke-width="2.0"/><path d="M366 442l-2.6 -4.4h5.2z" fill="#5cc4e0"/>
<line x1="380.5" y1="428.5" x2="380.5" y2="420" stroke="#1c1030" stroke-width="2.0"/><path d="M380.5 417l-2.6 4.4h5.2z" fill="#1c1030"/>
<line x1="388.5" y1="429" x2="388.5" y2="420" stroke="#e0b050" stroke-width="2.0"/><path d="M388.5 417l-2.6 4.4h5.2z" fill="#e0b050"/>
<line x1="403" y1="428" x2="403" y2="438" stroke="#1a6a40" stroke-width="2.0"/><path d="M403 441l-2.6 -4.4h5.2z" fill="#1a6a40"/>
<line x1="410" y1="428" x2="410" y2="438" stroke="#60b8d8" stroke-width="2.0"/><path d="M410 441l-2.6 -4.4h5.2z" fill="#60b8d8"/>
<line x1="424.6" y1="428.5" x2="424.6" y2="420" stroke="#b01828" stroke-width="2.0"/><path d="M424.6 417l-2.6 4.4h5.2z" fill="#b01828"/>
<line x1="432" y1="429" x2="432" y2="421" stroke="#e0a040" stroke-width="2.0"/><path d="M432 418l-2.6 4.4h5.2z" fill="#e0a040"/>
<line x1="446" y1="428" x2="446" y2="438" stroke="#1a8a80" stroke-width="2.0"/><path d="M446 441l-2.6 -4.4h5.2z" fill="#1a8a80"/>
<line x1="453.5" y1="429" x2="453.5" y2="436" stroke="#3050c0" stroke-width="2.0"/><path d="M453.5 439l-2.6 -4.4h5.2z" fill="#3050c0"/>
<line x1="461" y1="429" x2="461" y2="424" stroke="#181818" stroke-width="2.0"/><path d="M461 421l-2.6 4.4h5.2z" fill="#181818"/>
<line x1="467.8" y1="428.5" x2="467.8" y2="419" stroke="#e07060" stroke-width="2.0"/><path d="M467.8 416l-2.6 4.4h5.2z" fill="#e07060"/>
<line x1="489" y1="428" x2="489" y2="439" stroke="#60c8d8" stroke-width="2.0"/><path d="M489 442l-2.6 -4.4h5.2z" fill="#60c8d8"/>
<line x1="504" y1="430" x2="504" y2="421" stroke="#181818" stroke-width="2.0"/><path d="M504 418l-2.6 4.4h5.2z" fill="#181818"/>
<circle cx="372.5" cy="430" r="1.8" fill="#1a1a70"/><circle cx="396" cy="428.5" r="1.3" fill="#5a6a40"/><circle cx="417" cy="428.5" r="1.9" fill="#111"/><circle cx="439" cy="429.5" r="1.3" fill="#111"/><circle cx="474.5" cy="426.5" r="1.8" fill="#c0b030"/><circle cx="496.5" cy="430" r="2" fill="#2030a0"/><line x1="480" y1="434" x2="482" y2="428" stroke="#111" stroke-width="1.5"/>
<g><path d="M341.6 514.4L341.5 516.36L334.74 515.7L334.8 514.4z" fill="hsl(2,100%,50%)"/><path d="M341.52 516.16L341.26 518.11L334.57 516.86L334.75 515.57z" fill="hsl(7,100%,50%)"/><path d="M341.29 517.91L340.86 519.82L334.31 518L334.6 516.73z" fill="hsl(12,100%,50%)"/><path d="M340.91 519.63L340.31 521.5L333.95 519.11L334.34 517.87z" fill="hsl(17,100%,50%)"/><path d="M340.38 521.31L339.62 523.12L333.49 520.18L333.99 518.98z" fill="hsl(22,100%,50%)"/><path d="M339.71 522.94L338.79 524.67L332.94 521.22L333.54 520.06z" fill="hsl(27,100%,50%)"/><path d="M338.89 524.5L337.83 526.15L332.3 522.2L333 521.1z" fill="hsl(32,100%,50%)"/><path d="M337.95 525.99L336.74 527.54L331.58 523.12L332.38 522.09z" fill="hsl(37,100%,50%)"/><path d="M336.87 527.38L335.54 528.83L330.78 523.97L331.66 523.01z" fill="hsl(42,100%,50%)"/><path d="M335.68 528.68L334.23 530L329.91 524.75L330.88 523.88z" fill="hsl(47,100%,50%)"/><path d="M334.38 529.87L332.82 531.06L328.98 525.45L330.01 524.66z" fill="hsl(52,100%,50%)"/><path d="M332.99 530.95L331.32 531.99L327.98 526.07L329.09 525.38z" fill="hsl(57,100%,50%)"/><path d="M331.5 531.89L329.75 532.79L326.94 526.6L328.1 526z" fill="hsl(62,100%,50%)"/><path d="M329.94 532.71L328.12 533.45L325.86 527.04L327.06 526.54z" fill="hsl(67,100%,50%)"/><path d="M328.31 533.38L326.43 533.96L324.74 527.38L325.98 526.99z" fill="hsl(72,100%,50%)"/><path d="M326.63 533.91L324.71 534.33L323.59 527.62L324.87 527.34z" fill="hsl(77,100%,50%)"/><path d="M324.91 534.29L322.96 534.54L322.43 527.76L323.73 527.6z" fill="hsl(82,100%,50%)"/><path d="M323.16 534.52L321.2 534.6L321.27 527.8L322.57 527.75z" fill="hsl(87,100%,50%)"/><path d="M321.4 534.6L319.44 534.5L320.1 527.74L321.4 527.8z" fill="hsl(92,100%,50%)"/><path d="M319.64 534.52L317.69 534.26L318.94 527.57L320.23 527.75z" fill="hsl(97,100%,50%)"/><path d="M317.89 534.29L315.98 533.86L317.8 527.31L319.07 527.6z" fill="hsl(102,100%,50%)"/><path d="M316.17 533.91L314.3 533.31L316.69 526.95L317.93 527.34z" fill="hsl(107,100%,50%)"/><path d="M314.49 533.38L312.68 532.62L315.62 526.49L316.82 526.99z" fill="hsl(112,100%,50%)"/><path d="M312.86 532.71L311.13 531.79L314.58 525.94L315.74 526.54z" fill="hsl(117,100%,50%)"/><path d="M311.3 531.89L309.65 530.83L313.6 525.3L314.7 526z" fill="hsl(122,100%,50%)"/><path d="M309.81 530.95L308.26 529.74L312.68 524.58L313.71 525.38z" fill="hsl(127,100%,50%)"/><path d="M308.42 529.87L306.97 528.54L311.83 523.78L312.79 524.66z" fill="hsl(132,100%,50%)"/><path d="M307.12 528.68L305.8 527.23L311.05 522.91L311.92 523.88z" fill="hsl(137,100%,50%)"/><path d="M305.93 527.38L304.74 525.82L310.35 521.98L311.14 523.01z" fill="hsl(142,100%,50%)"/><path d="M304.85 525.99L303.81 524.32L309.73 520.98L310.42 522.09z" fill="hsl(147,100%,50%)"/><path d="M303.91 524.5L303.01 522.75L309.2 519.94L309.8 521.1z" fill="hsl(152,100%,50%)"/><path d="M303.09 522.94L302.35 521.12L308.76 518.86L309.26 520.06z" fill="hsl(157,100%,50%)"/><path d="M302.42 521.31L301.84 519.43L308.42 517.74L308.81 518.98z" fill="hsl(162,100%,50%)"/><path d="M301.89 519.63L301.47 517.71L308.18 516.59L308.46 517.87z" fill="hsl(167,100%,50%)"/><path d="M301.51 517.91L301.26 515.96L308.04 515.43L308.2 516.73z" fill="hsl(172,100%,50%)"/><path d="M301.28 516.16L301.2 514.2L308 514.27L308.05 515.57z" fill="hsl(177,100%,50%)"/><path d="M301.2 514.4L301.3 512.44L308.06 513.1L308 514.4z" fill="hsl(182,100%,50%)"/><path d="M301.28 512.64L301.54 510.69L308.23 511.94L308.05 513.23z" fill="hsl(187,100%,50%)"/><path d="M301.51 510.89L301.94 508.98L308.49 510.8L308.2 512.07z" fill="hsl(192,100%,50%)"/><path d="M301.89 509.17L302.49 507.3L308.85 509.69L308.46 510.93z" fill="hsl(197,100%,50%)"/><path d="M302.42 507.49L303.18 505.68L309.31 508.62L308.81 509.82z" fill="hsl(202,100%,50%)"/><path d="M303.09 505.86L304.01 504.13L309.86 507.58L309.26 508.74z" fill="hsl(207,100%,50%)"/><path d="M303.91 504.3L304.97 502.65L310.5 506.6L309.8 507.7z" fill="hsl(212,100%,50%)"/><path d="M304.85 502.81L306.06 501.26L311.22 505.68L310.42 506.71z" fill="hsl(217,100%,50%)"/><path d="M305.93 501.42L307.26 499.97L312.02 504.83L311.14 505.79z" fill="hsl(222,100%,50%)"/><path d="M307.12 500.12L308.57 498.8L312.89 504.05L311.92 504.92z" fill="hsl(227,100%,50%)"/><path d="M308.42 498.93L309.98 497.74L313.82 503.35L312.79 504.14z" fill="hsl(232,100%,50%)"/><path d="M309.81 497.85L311.48 496.81L314.82 502.73L313.71 503.42z" fill="hsl(237,100%,50%)"/><path d="M311.3 496.91L313.05 496.01L315.86 502.2L314.7 502.8z" fill="hsl(242,100%,50%)"/><path d="M312.86 496.09L314.68 495.35L316.94 501.76L315.74 502.26z" fill="hsl(247,100%,50%)"/><path d="M314.49 495.42L316.37 494.84L318.06 501.42L316.82 501.81z" fill="hsl(252,100%,50%)"/><path d="M316.17 494.89L318.09 494.47L319.21 501.18L317.93 501.46z" fill="hsl(257,100%,50%)"/><path d="M317.89 494.51L319.84 494.26L320.37 501.04L319.07 501.2z" fill="hsl(262,100%,50%)"/><path d="M319.64 494.28L321.6 494.2L321.53 501L320.23 501.05z" fill="hsl(267,100%,50%)"/><path d="M321.4 494.2L323.36 494.3L322.7 501.06L321.4 501z" fill="hsl(272,100%,50%)"/><path d="M323.16 494.28L325.11 494.54L323.86 501.23L322.57 501.05z" fill="hsl(277,100%,50%)"/><path d="M324.91 494.51L326.82 494.94L325 501.49L323.73 501.2z" fill="hsl(282,100%,50%)"/><path d="M326.63 494.89L328.5 495.49L326.11 501.85L324.87 501.46z" fill="hsl(287,100%,50%)"/><path d="M328.31 495.42L330.12 496.18L327.18 502.31L325.98 501.81z" fill="hsl(292,100%,50%)"/><path d="M329.94 496.09L331.67 497.01L328.22 502.86L327.06 502.26z" fill="hsl(297,100%,50%)"/><path d="M331.5 496.91L333.15 497.97L329.2 503.5L328.1 502.8z" fill="hsl(302,100%,50%)"/><path d="M332.99 497.85L334.54 499.06L330.12 504.22L329.09 503.42z" fill="hsl(307,100%,50%)"/><path d="M334.38 498.93L335.83 500.26L330.97 505.02L330.01 504.14z" fill="hsl(312,100%,50%)"/><path d="M335.68 500.12L337 501.57L331.75 505.89L330.88 504.92z" fill="hsl(317,100%,50%)"/><path d="M336.87 501.42L338.06 502.98L332.45 506.82L331.66 505.79z" fill="hsl(322,100%,50%)"/><path d="M337.95 502.81L338.99 504.48L333.07 507.82L332.38 506.71z" fill="hsl(327,100%,50%)"/><path d="M338.89 504.3L339.79 506.05L333.6 508.86L333 507.7z" fill="hsl(332,100%,50%)"/><path d="M339.71 505.86L340.45 507.68L334.04 509.94L333.54 508.74z" fill="hsl(337,100%,50%)"/><path d="M340.38 507.49L340.96 509.37L334.38 511.06L333.99 509.82z" fill="hsl(342,100%,50%)"/><path d="M340.91 509.17L341.33 511.09L334.62 512.21L334.34 510.93z" fill="hsl(347,100%,50%)"/><path d="M341.29 510.89L341.54 512.84L334.76 513.37L334.6 512.07z" fill="hsl(352,100%,50%)"/><path d="M341.52 512.64L341.6 514.6L334.8 514.53L334.75 513.23z" fill="hsl(357,100%,50%)"/></g>
<line x1="320.8" y1="513.9" x2="320.8" y2="489" stroke="#111" stroke-width="0.9"/><path d="M320.8 486l-1.8 4h3.6z" fill="#111"/>
<line x1="320.8" y1="513.9" x2="348" y2="513.9" stroke="#111" stroke-width="0.9"/><path d="M351.5 513.9l-4 -1.8v3.6z" fill="#111"/>
<line x1="320.8" y1="513.9" x2="339.5" y2="497.5" stroke="#111" stroke-width="0.9"/><path d="M342 495.3l-4.2 1.4l2.4 2.7z" fill="#111"/>
<text class="s" x="316.5" y="484" font-size="8.5" font-weight="bold">e<tspan font-size="5.5" dy="1.5">3</tspan></text>
<text class="s" x="353.2" y="516.5" font-size="8.5" font-weight="bold">e<tspan font-size="5.5" dy="1.5">2</tspan></text>
<text class="s" x="344" y="494" font-size="8.5" font-weight="bold">m<tspan font-size="5.5" dy="1.5">23</tspan></text>
<rect x="384.3" y="523.8" width="68.7" height="7.4" fill="url(#m1g)" stroke="#666" stroke-width="0.6"/>
<text class="s" x="372.5" y="530.6" font-size="9">−1</text>
<text class="s" x="455.5" y="530.8" font-size="9">+1</text>
<text class="s" x="414" y="520" font-size="8.5" font-weight="bold">m<tspan font-size="5.5" dy="1.5">1</tspan></text>
<rect x="1.6" y="1.9" width="273.4" height="538.9" rx="12" ry="12" fill="none" stroke="#111" stroke-width="2"/>
<rect x="282.9" y="1.9" width="235" height="538.9" rx="12" ry="12" fill="none" stroke="#111" stroke-width="2"/>
<text class="h" x="55.9" y="25.2" font-size="15.2" textLength="166" lengthAdjust="spacingAndGlyphs">Magnetostatic-driven</text>
<text class="h" x="335.9" y="25.2" font-size="15.2" textLength="130" lengthAdjust="spacingAndGlyphs">Exchange-driven</text>
<text class="t" x="6" y="51.7" font-size="15.6" textLength="264" lengthAdjust="spacingAndGlyphs">(a) Walker breakdown in nanotubes</text>
<text class="t" x="6" y="260.9" font-size="15.6" textLength="260" lengthAdjust="spacingAndGlyphs">(b) Asymmetric magnon dispersion</text>
<text class="t" x="6" y="348.1" font-size="15.6" textLength="235" lengthAdjust="spacingAndGlyphs">(c) Dipole-driven configurations</text>
<text class="t" x="287" y="51.6" font-size="15.6" textLength="157" lengthAdjust="spacingAndGlyphs">(d) Chirality selection</text>
<text class="t" x="287.6" y="152" font-size="15.6" textLength="162" lengthAdjust="spacingAndGlyphs">(e) Curvature-induced</text>
<text class="t" x="303.4" y="168.1" font-size="15.6" textLength="121.6" lengthAdjust="spacingAndGlyphs">topological states</text>
<text class="t" x="287.6" y="400.4" font-size="15.6" textLength="214.4" lengthAdjust="spacingAndGlyphs">(f) Chiral spins in nanohelices</text>
</svg>
</body></html>
